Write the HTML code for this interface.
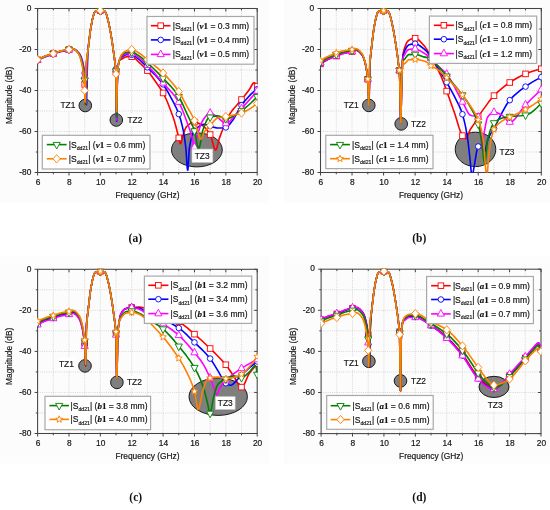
<!DOCTYPE html><html><head><meta charset="utf-8"><style>html,body{margin:0;padding:0;background:#fff}svg{display:block}</style></head><body><svg width="550" height="510" viewBox="0 0 550 510">
<style>.t{font-family:"Liberation Sans",Arial,sans-serif;font-size:8.4px;fill:#151515;stroke:#151515;stroke-width:0.18px}.lg{font-size:8.55px}.sub{font-size:5.2px}.vi{font-family:"Liberation Serif",serif;font-style:italic;font-weight:bold;font-size:9px}.vb{font-family:"Liberation Serif",serif;font-weight:bold;font-size:9px}.cap{font-family:"Liberation Serif",serif;font-weight:bold;font-size:11.5px;fill:#111}</style>
<rect width="550" height="510" fill="#fff"/>
<rect x="0" y="0" width="269" height="203" fill="#fcfcfc"/>
<rect x="284" y="0" width="266" height="203" fill="#fcfcfc"/>
<rect x="0" y="256.5" width="269" height="207" fill="#fcfcfc"/>
<rect x="284" y="256.5" width="266" height="207" fill="#fcfcfc"/>
<clipPath id="clipa"><rect x="37.6" y="3.5" width="219.6" height="169.0"/></clipPath>
<clipPath id="mclipa"><rect x="37.1" y="8.0" width="220.6" height="165.0"/></clipPath>
<path d="M53.29 8.50V172.50 M68.97 8.50V172.50 M84.66 8.50V172.50 M100.34 8.50V172.50 M116.03 8.50V172.50 M131.71 8.50V172.50 M147.40 8.50V172.50 M163.09 8.50V172.50 M178.77 8.50V172.50 M194.46 8.50V172.50 M210.14 8.50V172.50 M225.83 8.50V172.50 M241.51 8.50V172.50 M37.60 152.00H257.20 M37.60 131.50H257.20 M37.60 111.00H257.20 M37.60 90.50H257.20 M37.60 70.00H257.20 M37.60 49.50H257.20 M37.60 29.00H257.20" stroke="#d2d2d2" stroke-width="0.9" stroke-dasharray="1 1.2" fill="none"/>
<path d="M37.60 172.50v3 M37.60 8.50v3 M53.29 172.50v1.8 M53.29 8.50v1.8 M68.97 172.50v3 M68.97 8.50v3 M84.66 172.50v1.8 M84.66 8.50v1.8 M100.34 172.50v3 M100.34 8.50v3 M116.03 172.50v1.8 M116.03 8.50v1.8 M131.71 172.50v3 M131.71 8.50v3 M147.40 172.50v1.8 M147.40 8.50v1.8 M163.09 172.50v3 M163.09 8.50v3 M178.77 172.50v1.8 M178.77 8.50v1.8 M194.46 172.50v3 M194.46 8.50v3 M210.14 172.50v1.8 M210.14 8.50v1.8 M225.83 172.50v3 M225.83 8.50v3 M241.51 172.50v1.8 M241.51 8.50v1.8 M257.20 172.50v3 M257.20 8.50v3 M37.60 172.50h-3 M257.20 172.50h-3 M37.60 152.00h-1.8 M257.20 152.00h-1.8 M37.60 131.50h-3 M257.20 131.50h-3 M37.60 111.00h-1.8 M257.20 111.00h-1.8 M37.60 90.50h-3 M257.20 90.50h-3 M37.60 70.00h-1.8 M257.20 70.00h-1.8 M37.60 49.50h-3 M257.20 49.50h-3 M37.60 29.00h-1.8 M257.20 29.00h-1.8 M37.60 8.50h-3 M257.20 8.50h-3" stroke="#444" stroke-width="1" fill="none"/>
<rect x="37.60" y="8.50" width="219.60" height="164.00" fill="none" stroke="#444" stroke-width="1.05"/>
<text x="38.00" y="185.30" text-anchor="middle" class="t">6</text>
<text x="69.37" y="185.30" text-anchor="middle" class="t">8</text>
<text x="100.74" y="185.30" text-anchor="middle" class="t">10</text>
<text x="132.11" y="185.30" text-anchor="middle" class="t">12</text>
<text x="163.49" y="185.30" text-anchor="middle" class="t">14</text>
<text x="194.86" y="185.30" text-anchor="middle" class="t">16</text>
<text x="226.23" y="185.30" text-anchor="middle" class="t">18</text>
<text x="257.60" y="185.30" text-anchor="middle" class="t">20</text>
<text x="31.30" y="174.70" text-anchor="end" class="t">-80</text>
<text x="31.30" y="133.70" text-anchor="end" class="t">-60</text>
<text x="31.30" y="92.70" text-anchor="end" class="t">-40</text>
<text x="31.30" y="51.70" text-anchor="end" class="t">-20</text>
<text x="31.30" y="10.70" text-anchor="end" class="t">0</text>
<text x="147.50" y="197.70" text-anchor="middle" class="t">Frequency (GHz)</text>
<text transform="translate(12.10 95.40) rotate(-90)" text-anchor="middle" class="t">Magnitude (dB)</text>
<ellipse cx="196.90" cy="149.90" rx="25.4" ry="17.0" fill="#7f7f7f" stroke="#1a1a1a" stroke-width="1"/>
<circle cx="85.30" cy="105.50" r="6.3" fill="#7f7f7f" stroke="#1a1a1a" stroke-width="1"/>
<circle cx="116.30" cy="120.00" r="6.3" fill="#7f7f7f" stroke="#1a1a1a" stroke-width="1"/>
<polyline points="37.6,59.8 41.7,57.7 45.4,56.1 48.0,55.2 53.3,53.6 58.6,51.7 60.8,51.0 63.3,50.5 69.0,49.5 71.5,48.9 72.7,48.7 73.4,48.7 74.3,49.1 74.9,49.4 75.9,50.2 77.1,51.6 78.4,53.2 79.0,54.2 79.6,55.4 80.6,58.0 81.5,61.3 82.1,63.9 82.8,67.2 83.4,71.4 84.0,76.5 84.7,84.4 85.3,104.1 85.6,96.4 85.9,76.5 86.2,65.6 86.5,60.9 86.9,57.8 88.1,49.5 89.4,38.4 90.3,31.1 91.9,21.9 92.5,19.0 93.8,14.1 94.4,12.6 95.3,11.5 96.0,11.0 96.3,11.0 97.2,11.2 98.5,12.0 98.8,12.3 99.7,13.6 100.0,13.9 100.3,14.0 100.7,13.9 101.0,13.6 101.9,12.3 102.2,12.0 103.5,11.2 104.1,11.0 104.4,11.0 104.7,11.2 105.4,12.1 106.0,13.2 106.6,14.9 108.2,20.8 109.8,28.2 110.7,33.2 112.0,40.9 114.1,55.9 115.7,68.1 116.0,72.1 116.3,109.1 116.7,117.1 117.3,80.0 117.6,72.5 117.9,67.9 118.5,63.1 118.9,61.6 119.2,60.8 120.1,59.8 120.7,59.4 122.3,58.7 124.8,57.3 125.8,56.9 127.0,56.7 131.7,56.7 132.7,56.8 133.9,57.5 135.5,58.7 138.9,62.2 143.9,66.9 147.7,71.0 150.9,75.0 159.3,87.0 161.2,89.8 163.1,93.0 165.3,97.3 167.5,102.3 170.6,110.2 172.8,116.3 174.4,121.1 175.9,126.5 178.8,137.9 179.7,142.3 180.0,143.4 180.3,143.8 180.7,143.6 181.3,142.1 182.8,135.7 183.5,133.6 185.0,129.4 185.7,128.0 186.3,127.0 187.2,126.0 188.8,124.6 190.1,123.6 191.3,122.9 192.6,122.4 193.5,122.2 194.5,122.1 195.7,122.2 197.0,122.5 198.5,123.2 200.4,124.2 202.9,125.8 204.2,126.8 205.4,128.0 206.7,129.5 207.9,131.2 210.1,134.6 210.8,136.0 211.7,139.0 213.9,147.0 214.8,149.3 215.2,149.7 215.5,149.9 215.8,149.9 216.1,149.6 216.7,148.2 217.4,146.1 219.2,138.6 220.5,135.1 222.1,131.0 225.5,122.5 227.1,118.9 228.7,115.8 230.2,113.3 231.8,111.1 233.4,109.0 240.6,100.7 248.1,91.2 249.7,89.0 252.2,84.5 253.1,83.2 253.7,82.8 254.1,82.7 254.4,82.8 255.0,83.1 255.9,84.1 257.2,86.4" fill="none" stroke="#ff0000" stroke-width="1.6" stroke-linejoin="round" clip-path="url(#clipa)"/>
<rect x="34.80" y="56.95" width="5.6" height="5.6" fill="#fff" stroke="#ff0000" stroke-width="0.9" clip-path="url(#mclipa)"/>
<rect x="50.49" y="50.80" width="5.6" height="5.6" fill="#fff" stroke="#ff0000" stroke-width="0.9"/>
<rect x="66.17" y="46.70" width="5.6" height="5.6" fill="#fff" stroke="#ff0000" stroke-width="0.9"/>
<rect x="81.86" y="81.55" width="5.6" height="5.6" fill="#fff" stroke="#ff0000" stroke-width="0.9"/>
<rect x="97.54" y="7.75" width="5.6" height="5.6" fill="#fff" stroke="#ff0000" stroke-width="0.9" clip-path="url(#mclipa)"/>
<rect x="113.23" y="69.25" width="5.6" height="5.6" fill="#fff" stroke="#ff0000" stroke-width="0.9"/>
<rect x="128.91" y="53.88" width="5.6" height="5.6" fill="#fff" stroke="#ff0000" stroke-width="0.9"/>
<rect x="144.60" y="67.82" width="5.6" height="5.6" fill="#fff" stroke="#ff0000" stroke-width="0.9"/>
<rect x="160.29" y="90.16" width="5.6" height="5.6" fill="#fff" stroke="#ff0000" stroke-width="0.9"/>
<rect x="175.97" y="135.06" width="5.6" height="5.6" fill="#fff" stroke="#ff0000" stroke-width="0.9"/>
<rect x="191.66" y="119.27" width="5.6" height="5.6" fill="#fff" stroke="#ff0000" stroke-width="0.9"/>
<rect x="207.34" y="131.77" width="5.6" height="5.6" fill="#fff" stroke="#ff0000" stroke-width="0.9"/>
<rect x="223.03" y="118.97" width="5.6" height="5.6" fill="#fff" stroke="#ff0000" stroke-width="0.9"/>
<rect x="238.71" y="96.72" width="5.6" height="5.6" fill="#fff" stroke="#ff0000" stroke-width="0.9"/>
<rect x="254.40" y="83.60" width="5.6" height="5.6" fill="#fff" stroke="#ff0000" stroke-width="0.9" clip-path="url(#mclipa)"/>
<polyline points="37.6,60.4 41.7,58.3 45.4,56.7 47.6,55.9 53.6,54.1 59.2,52.1 61.4,51.5 68.7,50.2 71.5,49.5 72.7,49.3 73.7,49.4 74.9,49.8 75.9,50.4 77.1,51.4 78.4,52.6 80.0,54.5 80.9,56.3 81.8,59.0 82.8,62.3 83.7,66.8 84.7,73.1 85.0,77.6 85.9,98.4 86.2,103.2 86.5,104.6 87.2,72.1 87.8,55.2 88.1,49.5 88.7,43.2 90.3,31.1 91.9,21.9 92.5,19.0 93.8,14.1 94.4,12.6 95.3,11.5 96.0,11.0 96.3,11.0 97.2,11.2 98.5,12.0 98.8,12.3 99.7,13.6 100.0,13.9 100.3,14.0 100.7,13.9 101.0,13.6 101.9,12.3 102.2,12.0 103.2,11.3 104.1,11.0 104.4,11.0 104.7,11.2 105.4,12.1 106.0,13.2 106.3,13.9 106.9,16.0 108.5,22.2 110.1,29.8 112.0,40.9 114.1,55.9 115.1,63.8 115.4,65.7 115.7,66.9 116.0,69.0 116.7,121.2 117.0,107.3 117.3,85.5 117.6,76.0 117.9,69.9 118.2,66.4 118.9,61.9 119.2,60.8 120.1,58.9 120.7,58.0 121.4,57.4 123.9,55.7 124.8,55.2 125.8,54.8 126.4,54.7 127.3,54.6 132.0,54.9 133.3,55.2 134.9,56.1 140.8,61.0 143.9,63.9 155.6,75.5 158.7,78.9 161.2,81.9 164.0,85.7 166.9,90.2 173.8,102.9 176.3,108.0 177.5,110.8 178.8,114.1 180.7,119.8 182.2,125.7 183.8,133.2 185.0,141.4 186.0,149.5 186.9,163.7 187.2,167.7 187.6,170.1 187.9,170.0 188.2,167.0 189.1,151.3 189.4,147.9 190.4,142.3 191.3,138.1 191.9,135.9 192.6,134.2 194.1,131.3 195.7,129.2 196.7,128.2 197.6,127.4 199.8,125.9 202.0,124.7 203.6,124.3 204.8,124.4 206.1,124.7 214.5,127.4 217.0,128.0 219.9,128.0 223.3,127.7 226.1,127.3 227.1,126.9 228.0,126.2 229.3,124.8 233.7,118.9 235.2,116.3 238.7,109.8 240.3,107.1 241.5,105.3 244.3,101.6 248.1,97.2 251.2,93.9 254.4,91.2 257.2,89.3" fill="none" stroke="#0000ff" stroke-width="1.6" stroke-linejoin="round" clip-path="url(#clipa)"/>
<circle cx="37.60" cy="60.37" r="2.8" fill="#fff" stroke="#0000ff" stroke-width="0.9" clip-path="url(#mclipa)"/>
<circle cx="53.29" cy="54.21" r="2.8" fill="#fff" stroke="#0000ff" stroke-width="0.9"/>
<circle cx="68.97" cy="50.12" r="2.8" fill="#fff" stroke="#0000ff" stroke-width="0.9"/>
<circle cx="84.66" cy="73.08" r="2.8" fill="#fff" stroke="#0000ff" stroke-width="0.9"/>
<circle cx="100.34" cy="10.55" r="2.8" fill="#fff" stroke="#0000ff" stroke-width="0.9" clip-path="url(#mclipa)"/>
<circle cx="116.03" cy="68.97" r="2.8" fill="#fff" stroke="#0000ff" stroke-width="0.9"/>
<circle cx="131.71" cy="54.83" r="2.8" fill="#fff" stroke="#0000ff" stroke-width="0.9"/>
<circle cx="147.40" cy="67.34" r="2.8" fill="#fff" stroke="#0000ff" stroke-width="0.9"/>
<circle cx="163.09" cy="84.35" r="2.8" fill="#fff" stroke="#0000ff" stroke-width="0.9"/>
<circle cx="178.77" cy="114.08" r="2.8" fill="#fff" stroke="#0000ff" stroke-width="0.9"/>
<circle cx="194.46" cy="130.86" r="2.8" fill="#fff" stroke="#0000ff" stroke-width="0.9"/>
<circle cx="210.14" cy="125.96" r="2.8" fill="#fff" stroke="#0000ff" stroke-width="0.9"/>
<circle cx="225.83" cy="127.40" r="2.8" fill="#fff" stroke="#0000ff" stroke-width="0.9"/>
<circle cx="241.51" cy="105.26" r="2.8" fill="#fff" stroke="#0000ff" stroke-width="0.9"/>
<circle cx="257.20" cy="89.27" r="2.8" fill="#fff" stroke="#0000ff" stroke-width="0.9" clip-path="url(#mclipa)"/>
<polyline points="37.6,60.2 41.7,58.1 45.4,56.5 48.0,55.6 53.3,54.0 58.6,52.1 61.1,51.3 69.0,49.9 71.5,49.3 72.7,49.1 73.7,49.2 74.6,49.5 75.6,50.1 76.5,50.8 77.8,52.1 79.0,53.6 79.6,54.4 80.3,55.6 81.2,58.2 82.1,61.4 82.8,64.0 83.4,67.3 84.3,73.3 84.7,76.1 85.0,81.8 85.6,98.4 85.9,103.9 86.2,100.9 86.5,80.6 86.9,68.2 87.2,61.1 87.5,56.5 88.4,46.4 90.0,33.4 90.6,29.0 91.9,21.9 92.5,19.0 93.8,14.1 94.4,12.6 95.3,11.5 96.0,11.0 96.3,11.0 97.2,11.2 98.5,12.0 98.8,12.3 99.7,13.6 100.0,13.9 100.3,14.0 100.7,13.9 101.0,13.6 101.9,12.3 102.2,12.0 103.5,11.2 104.1,11.0 104.4,11.0 104.7,11.2 105.4,12.1 106.0,13.2 106.6,14.9 108.2,20.8 109.8,28.2 110.7,33.2 112.0,40.9 114.1,55.9 115.1,63.7 115.7,67.3 116.0,70.0 116.3,101.8 116.7,120.1 117.3,82.3 117.6,74.2 117.9,68.8 118.2,65.8 118.9,61.9 119.2,60.8 119.8,59.2 120.4,57.9 121.0,56.9 122.0,55.9 124.2,54.4 125.4,53.9 126.7,53.6 132.0,53.6 133.3,53.9 134.5,54.5 135.8,55.3 141.1,59.3 144.3,62.2 149.3,67.2 154.9,73.4 164.3,84.4 171.9,92.6 174.7,96.1 177.2,99.7 179.4,103.3 181.3,107.3 183.5,112.8 187.6,123.8 189.8,130.1 191.6,136.0 192.3,138.2 193.8,145.9 194.1,146.7 194.5,147.1 194.8,146.7 195.1,145.9 196.7,138.2 198.2,132.7 199.8,127.4 201.0,123.8 202.0,121.8 203.9,118.8 205.8,116.2 207.3,114.4 208.6,113.5 209.5,113.1 210.1,113.0 210.8,113.1 212.0,113.5 213.9,114.6 218.6,118.2 222.4,121.7 223.6,122.7 224.6,123.2 225.5,123.5 226.1,123.5 227.1,123.2 228.0,122.7 229.3,121.7 235.6,115.3 257.2,91.1" fill="none" stroke="#ff00ff" stroke-width="1.6" stroke-linejoin="round" clip-path="url(#clipa)"/>
<path d="M37.60 55.76L41.20 62.36H34.00Z" fill="#fff" stroke="#ff00ff" stroke-width="0.9" clip-path="url(#mclipa)"/>
<path d="M53.29 49.61L56.89 56.21H49.69Z" fill="#fff" stroke="#ff00ff" stroke-width="0.9"/>
<path d="M68.97 45.51L72.57 52.11H65.37Z" fill="#fff" stroke="#ff00ff" stroke-width="0.9"/>
<path d="M84.66 71.75L88.26 78.35H81.06Z" fill="#fff" stroke="#ff00ff" stroke-width="0.9"/>
<path d="M100.34 6.15L103.94 12.75H96.74Z" fill="#fff" stroke="#ff00ff" stroke-width="0.9" clip-path="url(#mclipa)"/>
<path d="M116.03 65.60L119.63 72.20H112.43Z" fill="#fff" stroke="#ff00ff" stroke-width="0.9"/>
<path d="M131.71 49.20L135.31 55.80H128.11Z" fill="#fff" stroke="#ff00ff" stroke-width="0.9"/>
<path d="M147.40 60.88L151.00 67.48H143.80Z" fill="#fff" stroke="#ff00ff" stroke-width="0.9"/>
<path d="M163.09 78.51L166.69 85.11H159.49Z" fill="#fff" stroke="#ff00ff" stroke-width="0.9"/>
<path d="M178.77 97.78L182.37 104.39H175.17Z" fill="#fff" stroke="#ff00ff" stroke-width="0.9"/>
<path d="M194.46 142.68L198.06 149.28H190.86Z" fill="#fff" stroke="#ff00ff" stroke-width="0.9"/>
<path d="M210.14 108.65L213.74 115.25H206.54Z" fill="#fff" stroke="#ff00ff" stroke-width="0.9"/>
<path d="M225.83 119.11L229.43 125.71H222.23Z" fill="#fff" stroke="#ff00ff" stroke-width="0.9"/>
<path d="M241.51 104.14L245.11 110.74H237.91Z" fill="#fff" stroke="#ff00ff" stroke-width="0.9"/>
<path d="M257.20 86.71L260.80 93.31H253.60Z" fill="#fff" stroke="#ff00ff" stroke-width="0.9" clip-path="url(#mclipa)"/>
<polyline points="37.6,59.8 41.7,57.7 45.4,56.1 48.0,55.2 53.3,53.6 58.6,51.7 60.8,51.0 63.3,50.5 69.0,49.5 71.5,48.9 72.7,48.7 73.4,48.7 74.3,49.0 74.9,49.4 75.9,50.1 77.1,51.4 78.7,53.4 79.3,54.4 80.0,55.7 80.9,58.4 81.8,61.7 82.8,66.2 84.0,74.1 84.7,80.2 85.3,100.1 85.6,104.6 86.2,71.7 86.5,63.3 87.2,56.4 88.1,49.5 90.0,33.4 90.6,29.0 91.9,21.9 92.5,19.0 93.8,14.1 94.4,12.6 95.3,11.5 96.0,11.0 96.3,11.0 97.2,11.2 98.5,12.0 98.8,12.3 99.7,13.6 100.0,13.9 100.3,14.0 100.7,13.9 101.0,13.6 101.9,12.3 102.2,12.0 103.5,11.2 104.1,11.0 104.4,11.0 104.7,11.2 105.4,12.1 106.0,13.2 106.6,14.9 108.2,20.8 109.8,28.2 110.7,33.2 112.0,40.9 114.1,55.9 115.1,63.6 115.7,67.7 116.0,71.0 116.3,108.8 116.7,117.1 117.3,80.0 117.6,72.5 117.9,67.9 118.2,65.4 118.9,61.9 119.8,59.0 120.4,57.5 121.0,56.2 122.0,54.9 124.2,53.2 125.4,52.5 126.7,52.2 132.0,52.2 133.6,52.5 134.9,53.1 136.1,53.9 140.5,56.9 142.1,58.1 148.7,64.0 154.0,69.0 159.9,74.9 170.6,86.1 174.4,90.5 177.8,95.2 179.7,98.2 181.6,101.9 186.9,113.7 191.0,122.1 192.9,126.5 194.1,130.0 194.8,132.0 195.4,134.8 197.3,144.9 197.9,147.3 198.2,148.1 198.5,148.5 198.8,148.5 199.2,148.0 199.8,146.1 200.4,143.1 202.3,132.5 202.9,129.9 204.8,124.7 206.1,121.7 207.3,119.3 208.3,118.1 208.6,117.8 209.2,117.5 212.3,116.6 215.2,116.1 217.7,115.9 218.6,116.0 219.6,116.2 220.8,116.8 223.6,118.2 225.2,118.7 226.5,118.8 227.7,118.6 229.0,118.3 230.5,117.7 232.7,116.5 234.9,115.2 242.8,109.7 245.3,107.9 248.1,105.5 250.9,103.0 254.1,99.9 257.2,96.6" fill="none" stroke="#008000" stroke-width="1.6" stroke-linejoin="round" clip-path="url(#clipa)"/>
<path d="M37.60 64.15L41.20 57.55H34.00Z" fill="#fff" stroke="#008000" stroke-width="0.9" clip-path="url(#mclipa)"/>
<path d="M53.29 58.00L56.89 51.40H49.69Z" fill="#fff" stroke="#008000" stroke-width="0.9"/>
<path d="M68.97 53.90L72.57 47.30H65.37Z" fill="#fff" stroke="#008000" stroke-width="0.9"/>
<path d="M84.66 84.65L88.26 78.05H81.06Z" fill="#fff" stroke="#008000" stroke-width="0.9"/>
<path d="M100.34 14.95L103.94 8.35H96.74Z" fill="#fff" stroke="#008000" stroke-width="0.9" clip-path="url(#mclipa)"/>
<path d="M116.03 75.43L119.63 68.83H112.43Z" fill="#fff" stroke="#008000" stroke-width="0.9"/>
<path d="M131.71 56.56L135.31 49.96H128.11Z" fill="#fff" stroke="#008000" stroke-width="0.9"/>
<path d="M147.40 67.22L151.00 60.62H143.80Z" fill="#fff" stroke="#008000" stroke-width="0.9"/>
<path d="M163.09 82.60L166.69 76.00H159.49Z" fill="#fff" stroke="#008000" stroke-width="0.9"/>
<path d="M178.77 101.05L182.37 94.45H175.17Z" fill="#fff" stroke="#008000" stroke-width="0.9"/>
<path d="M194.46 135.29L198.06 128.69H190.86Z" fill="#fff" stroke="#008000" stroke-width="0.9"/>
<path d="M210.14 121.59L213.74 114.99H206.54Z" fill="#fff" stroke="#008000" stroke-width="0.9"/>
<path d="M225.83 123.19L229.43 116.59H222.23Z" fill="#fff" stroke="#008000" stroke-width="0.9"/>
<path d="M241.51 114.99L245.11 108.39H237.91Z" fill="#fff" stroke="#008000" stroke-width="0.9"/>
<path d="M257.20 101.05L260.80 94.45H253.60Z" fill="#fff" stroke="#008000" stroke-width="0.9" clip-path="url(#mclipa)"/>
<polyline points="37.6,59.8 41.7,57.7 45.4,56.1 48.0,55.2 53.3,53.6 58.3,51.8 60.5,51.1 63.0,50.5 69.0,49.5 71.5,48.9 72.4,48.7 73.0,48.7 73.7,48.8 74.3,49.1 75.2,49.8 76.2,50.7 77.4,52.3 78.7,54.1 79.3,55.3 80.0,57.0 80.9,60.0 81.5,62.3 82.1,65.1 83.1,71.1 84.0,80.5 84.7,90.5 85.0,102.2 85.3,99.1 85.6,78.5 85.9,69.4 86.2,63.9 86.9,57.8 88.1,49.5 89.4,38.4 90.3,31.1 91.2,25.3 92.2,20.4 93.4,15.2 94.1,13.2 94.7,12.2 95.6,11.2 96.0,11.0 96.6,11.0 97.5,11.4 98.5,12.0 98.8,12.3 99.7,13.6 100.0,13.9 100.3,14.0 100.7,13.9 101.0,13.6 101.9,12.3 102.2,12.0 103.5,11.2 104.1,11.0 104.4,11.0 104.7,11.2 105.4,12.1 106.3,13.9 107.9,19.5 109.1,25.1 110.4,31.5 111.6,38.8 113.8,53.7 114.8,60.7 115.7,69.1 116.0,74.1 116.3,105.2 116.7,111.7 117.3,80.1 117.6,72.7 117.9,67.9 118.2,65.4 118.9,62.0 119.8,58.7 120.7,56.2 121.7,54.4 122.6,53.3 124.2,51.9 126.1,50.9 129.2,49.9 131.4,49.5 133.0,49.7 134.5,50.3 136.1,51.1 140.5,54.0 142.4,55.4 147.4,59.8 157.1,67.7 161.8,71.9 166.9,76.9 171.2,81.7 175.0,86.3 178.1,90.6 180.3,94.0 182.2,97.4 186.9,106.4 191.0,113.4 192.9,117.0 193.8,119.1 194.8,121.5 197.0,129.5 199.2,136.4 199.8,138.0 200.4,139.0 200.7,139.1 201.0,138.9 201.4,138.6 202.0,137.2 203.6,133.1 204.2,132.1 205.4,130.4 207.0,128.6 210.8,124.7 214.5,120.3 215.8,119.1 216.7,118.3 217.7,117.9 219.2,117.5 225.5,116.6 234.9,114.8 239.0,113.8 242.5,112.7 245.6,111.3 249.0,109.4 252.8,106.8 257.2,103.4" fill="none" stroke="#ff8000" stroke-width="1.6" stroke-linejoin="round" clip-path="url(#clipa)"/>
<path d="M37.60 55.65L41.20 59.75L37.60 63.85L34.00 59.75Z" fill="#fff" stroke="#ff8000" stroke-width="0.9" clip-path="url(#mclipa)"/>
<path d="M53.29 49.50L56.89 53.60L53.29 57.70L49.69 53.60Z" fill="#fff" stroke="#ff8000" stroke-width="0.9"/>
<path d="M68.97 45.40L72.57 49.50L68.97 53.60L65.37 49.50Z" fill="#fff" stroke="#ff8000" stroke-width="0.9"/>
<path d="M84.66 86.40L88.26 90.50L84.66 94.60L81.06 90.50Z" fill="#fff" stroke="#ff8000" stroke-width="0.9"/>
<path d="M100.34 6.45L103.94 10.55L100.34 14.65L96.74 10.55Z" fill="#fff" stroke="#ff8000" stroke-width="0.9" clip-path="url(#mclipa)"/>
<path d="M116.03 70.00L119.63 74.10L116.03 78.20L112.43 74.10Z" fill="#fff" stroke="#ff8000" stroke-width="0.9"/>
<path d="M131.71 45.40L135.31 49.50L131.71 53.60L128.11 49.50Z" fill="#fff" stroke="#ff8000" stroke-width="0.9"/>
<path d="M147.40 55.65L151.00 59.75L147.40 63.85L143.80 59.75Z" fill="#fff" stroke="#ff8000" stroke-width="0.9"/>
<path d="M163.09 68.98L166.69 73.08L163.09 77.17L159.49 73.08Z" fill="#fff" stroke="#ff8000" stroke-width="0.9"/>
<path d="M178.77 87.42L182.37 91.52L178.77 95.62L175.17 91.52Z" fill="#fff" stroke="#ff8000" stroke-width="0.9"/>
<path d="M194.46 116.54L198.06 120.64L194.46 124.74L190.86 120.64Z" fill="#fff" stroke="#ff8000" stroke-width="0.9"/>
<path d="M210.14 121.25L213.74 125.35L210.14 129.45L206.54 125.35Z" fill="#fff" stroke="#ff8000" stroke-width="0.9"/>
<path d="M225.83 112.44L229.43 116.54L225.83 120.64L222.23 116.54Z" fill="#fff" stroke="#ff8000" stroke-width="0.9"/>
<path d="M241.51 108.95L245.11 113.05L241.51 117.15L237.91 113.05Z" fill="#fff" stroke="#ff8000" stroke-width="0.9"/>
<path d="M257.20 99.31L260.80 103.41L257.20 107.51L253.60 103.41Z" fill="#fff" stroke="#ff8000" stroke-width="0.9" clip-path="url(#mclipa)"/>
<rect x="59.20" y="98.40" width="17.30" height="12.4" fill="#fff"/>
<text x="75.30" y="107.60" text-anchor="end" class="t">TZ1</text>
<rect x="126.30" y="113.80" width="17.30" height="12.4" fill="#fff"/>
<text x="127.50" y="123.00" text-anchor="start" class="t">TZ2</text>
<rect x="192.0" y="149.1" width="20.8" height="13.2" fill="#fff" stroke="#d0d0d0" stroke-width="0.6"/>
<text x="202.20" y="158.90" text-anchor="middle" class="t">TZ3</text>
<rect x="147.00" y="16.50" width="107.00" height="47.70" fill="#fff" stroke="#a8a8a8" stroke-width="1.2"/>
<line x1="150.90" y1="25.70" x2="170.50" y2="25.70" stroke="#ff0000" stroke-width="1.6"/>
<rect x="157.90" y="22.90" width="5.6" height="5.6" fill="#fff" stroke="#ff0000" stroke-width="0.9"/>
<text x="172.70" y="28.70" class="t lg">|S<tspan class="sub" dy="2.3">dd21</tspan><tspan dy="-2.3">| (</tspan><tspan class="vi">v</tspan><tspan class="vb">1</tspan> = 0.3 mm)</text>
<line x1="150.90" y1="39.90" x2="170.50" y2="39.90" stroke="#0000ff" stroke-width="1.6"/>
<circle cx="160.70" cy="39.90" r="2.8" fill="#fff" stroke="#0000ff" stroke-width="0.9"/>
<text x="172.70" y="42.90" class="t lg">|S<tspan class="sub" dy="2.3">dd21</tspan><tspan dy="-2.3">| (</tspan><tspan class="vi">v</tspan><tspan class="vb">1</tspan> = 0.4 mm)</text>
<line x1="150.90" y1="54.40" x2="170.50" y2="54.40" stroke="#ff00ff" stroke-width="1.6"/>
<path d="M160.70 50.00L164.30 56.60H157.10Z" fill="#fff" stroke="#ff00ff" stroke-width="0.9"/>
<text x="172.70" y="57.40" class="t lg">|S<tspan class="sub" dy="2.3">dd21</tspan><tspan dy="-2.3">| (</tspan><tspan class="vi">v</tspan><tspan class="vb">1</tspan> = 0.5 mm)</text>
<rect x="42.30" y="135.30" width="107.70" height="33.70" fill="#fff" stroke="#a8a8a8" stroke-width="1.2"/>
<line x1="46.80" y1="144.60" x2="66.60" y2="144.60" stroke="#008000" stroke-width="1.6"/>
<path d="M56.70 149.00L60.30 142.40H53.10Z" fill="#fff" stroke="#008000" stroke-width="0.9"/>
<text x="68.80" y="147.60" class="t lg">|S<tspan class="sub" dy="2.3">dd21</tspan><tspan dy="-2.3">| (</tspan><tspan class="vi">v</tspan><tspan class="vb">1</tspan> = 0.6 mm)</text>
<line x1="46.80" y1="158.80" x2="66.60" y2="158.80" stroke="#ff8000" stroke-width="1.6"/>
<path d="M56.70 154.70L60.30 158.80L56.70 162.90L53.10 158.80Z" fill="#fff" stroke="#ff8000" stroke-width="0.9"/>
<text x="68.80" y="161.80" class="t lg">|S<tspan class="sub" dy="2.3">dd21</tspan><tspan dy="-2.3">| (</tspan><tspan class="vi">v</tspan><tspan class="vb">1</tspan> = 0.7 mm)</text>
<text x="135.3" y="242" text-anchor="middle" class="cap">(a)</text>
<clipPath id="clipb"><rect x="320.5" y="3.5" width="220.79999999999995" height="169.0"/></clipPath>
<clipPath id="mclipb"><rect x="320.0" y="8.0" width="221.79999999999995" height="165.0"/></clipPath>
<path d="M336.27 8.50V172.50 M352.04 8.50V172.50 M367.81 8.50V172.50 M383.59 8.50V172.50 M399.36 8.50V172.50 M415.13 8.50V172.50 M430.90 8.50V172.50 M446.67 8.50V172.50 M462.44 8.50V172.50 M478.21 8.50V172.50 M493.99 8.50V172.50 M509.76 8.50V172.50 M525.53 8.50V172.50 M320.50 152.00H541.30 M320.50 131.50H541.30 M320.50 111.00H541.30 M320.50 90.50H541.30 M320.50 70.00H541.30 M320.50 49.50H541.30 M320.50 29.00H541.30" stroke="#d2d2d2" stroke-width="0.9" stroke-dasharray="1 1.2" fill="none"/>
<path d="M320.50 172.50v3 M320.50 8.50v3 M336.27 172.50v1.8 M336.27 8.50v1.8 M352.04 172.50v3 M352.04 8.50v3 M367.81 172.50v1.8 M367.81 8.50v1.8 M383.59 172.50v3 M383.59 8.50v3 M399.36 172.50v1.8 M399.36 8.50v1.8 M415.13 172.50v3 M415.13 8.50v3 M430.90 172.50v1.8 M430.90 8.50v1.8 M446.67 172.50v3 M446.67 8.50v3 M462.44 172.50v1.8 M462.44 8.50v1.8 M478.21 172.50v3 M478.21 8.50v3 M493.99 172.50v1.8 M493.99 8.50v1.8 M509.76 172.50v3 M509.76 8.50v3 M525.53 172.50v1.8 M525.53 8.50v1.8 M541.30 172.50v3 M541.30 8.50v3 M320.50 172.50h-3 M541.30 172.50h-3 M320.50 152.00h-1.8 M541.30 152.00h-1.8 M320.50 131.50h-3 M541.30 131.50h-3 M320.50 111.00h-1.8 M541.30 111.00h-1.8 M320.50 90.50h-3 M541.30 90.50h-3 M320.50 70.00h-1.8 M541.30 70.00h-1.8 M320.50 49.50h-3 M541.30 49.50h-3 M320.50 29.00h-1.8 M541.30 29.00h-1.8 M320.50 8.50h-3 M541.30 8.50h-3" stroke="#444" stroke-width="1" fill="none"/>
<rect x="320.50" y="8.50" width="220.80" height="164.00" fill="none" stroke="#444" stroke-width="1.05"/>
<text x="320.90" y="185.30" text-anchor="middle" class="t">6</text>
<text x="352.44" y="185.30" text-anchor="middle" class="t">8</text>
<text x="383.99" y="185.30" text-anchor="middle" class="t">10</text>
<text x="415.53" y="185.30" text-anchor="middle" class="t">12</text>
<text x="447.07" y="185.30" text-anchor="middle" class="t">14</text>
<text x="478.61" y="185.30" text-anchor="middle" class="t">16</text>
<text x="510.16" y="185.30" text-anchor="middle" class="t">18</text>
<text x="541.70" y="185.30" text-anchor="middle" class="t">20</text>
<text x="314.20" y="174.70" text-anchor="end" class="t">-80</text>
<text x="314.20" y="133.70" text-anchor="end" class="t">-60</text>
<text x="314.20" y="92.70" text-anchor="end" class="t">-40</text>
<text x="314.20" y="51.70" text-anchor="end" class="t">-20</text>
<text x="314.20" y="10.70" text-anchor="end" class="t">0</text>
<text x="431.00" y="197.70" text-anchor="middle" class="t">Frequency (GHz)</text>
<text transform="translate(295.00 95.40) rotate(-90)" text-anchor="middle" class="t">Magnitude (dB)</text>
<ellipse cx="475.50" cy="149.40" rx="20.3" ry="17.2" fill="#7f7f7f" stroke="#1a1a1a" stroke-width="1"/>
<circle cx="368.80" cy="105.40" r="6.3" fill="#7f7f7f" stroke="#1a1a1a" stroke-width="1"/>
<circle cx="401.20" cy="123.90" r="6.3" fill="#7f7f7f" stroke="#1a1a1a" stroke-width="1"/>
<polyline points="320.5,63.9 325.2,61.0 329.3,58.9 333.7,57.0 340.4,54.4 342.9,53.6 345.4,52.9 352.0,51.6 354.6,50.6 355.5,50.4 356.1,50.3 357.1,50.5 358.0,51.0 359.0,51.6 360.2,52.8 361.5,54.3 362.5,55.5 363.1,56.7 363.7,58.3 364.7,61.2 365.3,63.5 365.9,66.4 367.2,73.9 367.8,79.2 368.8,102.5 369.1,103.8 369.7,70.5 370.0,62.6 370.3,58.3 371.9,43.7 373.2,33.4 373.8,29.0 375.1,21.9 375.7,19.0 377.0,14.1 377.6,12.6 378.5,11.5 379.2,11.0 379.5,11.0 380.4,11.2 381.7,12.0 382.0,12.3 383.0,13.6 383.3,13.9 383.6,14.0 383.9,13.9 384.2,13.6 385.2,12.3 385.5,12.0 386.7,11.2 387.4,11.0 387.7,11.0 388.0,11.2 388.6,12.1 389.3,13.2 389.9,14.9 391.5,20.8 393.4,29.8 394.6,36.9 395.6,43.0 397.5,55.9 398.4,63.6 399.4,70.4 399.7,78.1 400.6,118.3 400.9,123.3 401.2,108.5 401.6,85.6 401.9,77.0 402.2,71.9 402.5,60.8 402.8,56.7 403.1,53.8 403.5,51.9 404.4,48.5 405.7,44.9 406.6,42.9 407.2,41.9 407.9,41.1 408.5,40.5 409.1,40.1 410.7,39.3 412.0,38.8 413.9,38.3 415.1,38.2 415.8,38.3 416.4,38.5 417.3,38.9 418.3,39.6 419.2,40.4 423.3,44.7 425.2,47.1 427.1,49.9 429.3,53.6 431.5,57.8 435.6,65.0 437.8,69.3 441.3,76.7 443.8,83.1 454.9,114.0 459.0,127.4 460.6,131.9 461.8,134.6 463.1,136.4 464.0,137.5 464.7,138.1 465.3,138.5 465.9,138.7 466.2,138.6 466.5,138.3 467.2,137.3 467.8,135.8 469.7,130.8 470.3,129.4 471.3,128.0 474.1,123.9 477.6,117.6 479.2,115.1 488.6,102.1 491.1,98.9 493.7,96.0 497.8,91.9 502.5,87.8 507.5,84.0 513.2,80.3 518.9,77.0 524.0,74.6 530.3,72.1 535.9,70.2 541.3,68.8" fill="none" stroke="#ff0000" stroke-width="1.6" stroke-linejoin="round" clip-path="url(#clipb)"/>
<rect x="317.70" y="61.05" width="5.6" height="5.6" fill="#fff" stroke="#ff0000" stroke-width="0.9" clip-path="url(#mclipb)"/>
<rect x="333.47" y="53.26" width="5.6" height="5.6" fill="#fff" stroke="#ff0000" stroke-width="0.9"/>
<rect x="349.24" y="48.75" width="5.6" height="5.6" fill="#fff" stroke="#ff0000" stroke-width="0.9"/>
<rect x="365.01" y="76.43" width="5.6" height="5.6" fill="#fff" stroke="#ff0000" stroke-width="0.9"/>
<rect x="380.79" y="7.75" width="5.6" height="5.6" fill="#fff" stroke="#ff0000" stroke-width="0.9" clip-path="url(#mclipb)"/>
<rect x="396.56" y="67.61" width="5.6" height="5.6" fill="#fff" stroke="#ff0000" stroke-width="0.9"/>
<rect x="412.33" y="35.42" width="5.6" height="5.6" fill="#fff" stroke="#ff0000" stroke-width="0.9"/>
<rect x="428.10" y="53.88" width="5.6" height="5.6" fill="#fff" stroke="#ff0000" stroke-width="0.9"/>
<rect x="443.87" y="88.31" width="5.6" height="5.6" fill="#fff" stroke="#ff0000" stroke-width="0.9"/>
<rect x="459.64" y="132.80" width="5.6" height="5.6" fill="#fff" stroke="#ff0000" stroke-width="0.9"/>
<rect x="475.41" y="113.74" width="5.6" height="5.6" fill="#fff" stroke="#ff0000" stroke-width="0.9"/>
<rect x="491.19" y="92.83" width="5.6" height="5.6" fill="#fff" stroke="#ff0000" stroke-width="0.9"/>
<rect x="506.96" y="79.71" width="5.6" height="5.6" fill="#fff" stroke="#ff0000" stroke-width="0.9"/>
<rect x="522.73" y="71.09" width="5.6" height="5.6" fill="#fff" stroke="#ff0000" stroke-width="0.9"/>
<rect x="538.50" y="65.97" width="5.6" height="5.6" fill="#fff" stroke="#ff0000" stroke-width="0.9" clip-path="url(#mclipb)"/>
<polyline points="320.5,63.4 325.2,60.6 329.3,58.5 333.7,56.6 340.4,54.0 342.9,53.1 345.7,52.4 352.0,51.1 354.6,50.3 355.5,50.1 356.5,50.2 357.1,50.3 358.0,50.8 359.0,51.5 360.2,52.7 361.5,54.1 362.5,55.4 363.1,56.5 363.7,58.1 364.7,61.1 365.3,63.4 365.9,66.3 367.2,73.8 367.8,79.2 368.8,102.9 369.1,102.9 369.7,69.5 370.0,62.2 370.7,54.9 372.9,35.9 373.8,29.0 375.1,21.9 375.7,19.0 377.0,14.1 377.6,12.6 378.5,11.5 379.2,11.0 379.5,11.0 380.4,11.2 381.7,12.0 382.0,12.3 383.0,13.6 383.3,13.9 383.6,14.0 383.9,13.9 384.2,13.6 385.2,12.3 385.5,12.0 386.4,11.3 387.4,11.0 387.7,11.0 388.0,11.2 388.6,12.1 389.3,13.2 389.6,13.9 390.2,16.0 391.8,22.2 393.4,29.8 394.6,36.9 395.6,43.0 397.5,55.9 398.4,63.6 399.4,70.4 399.7,78.1 400.6,118.3 400.9,123.3 401.2,108.5 401.6,85.6 401.9,77.0 402.2,71.9 402.5,60.8 402.8,57.7 403.1,55.6 403.5,54.3 404.7,51.0 406.0,48.2 407.2,46.3 407.9,45.6 408.5,45.1 410.1,44.6 412.0,44.1 413.9,43.8 415.4,43.8 416.4,43.9 417.7,44.4 418.9,45.1 420.2,46.0 424.0,48.8 426.5,51.2 429.6,54.8 432.2,58.6 443.5,77.0 450.1,88.4 453.0,93.6 457.7,102.8 459.3,106.1 460.6,109.1 462.4,114.3 464.0,119.9 465.6,126.9 467.2,135.6 467.8,139.9 468.8,147.8 470.3,162.2 471.3,172.9 471.6,174.5 472.5,174.5 472.9,173.6 474.4,165.1 476.6,151.7 477.3,148.8 477.9,146.9 478.2,146.5 479.2,145.9 480.1,145.5 480.7,145.5 481.1,145.7 481.7,146.7 483.3,150.4 483.9,151.5 484.2,151.9 484.5,152.0 484.8,151.7 485.2,151.0 485.5,149.9 487.4,140.7 487.7,139.7 488.6,137.5 490.2,134.5 493.4,129.5 494.9,126.7 502.2,112.4 504.4,108.3 506.3,105.0 508.2,102.2 510.4,99.4 513.5,96.1 516.7,93.3 520.5,90.2 526.8,85.7 531.8,82.4 536.6,79.6 541.3,77.2" fill="none" stroke="#0000ff" stroke-width="1.6" stroke-linejoin="round" clip-path="url(#clipb)"/>
<circle cx="320.50" cy="63.44" r="2.8" fill="#fff" stroke="#0000ff" stroke-width="0.9" clip-path="url(#mclipb)"/>
<circle cx="336.27" cy="55.65" r="2.8" fill="#fff" stroke="#0000ff" stroke-width="0.9"/>
<circle cx="352.04" cy="51.14" r="2.8" fill="#fff" stroke="#0000ff" stroke-width="0.9"/>
<circle cx="367.81" cy="79.23" r="2.8" fill="#fff" stroke="#0000ff" stroke-width="0.9"/>
<circle cx="383.59" cy="10.55" r="2.8" fill="#fff" stroke="#0000ff" stroke-width="0.9" clip-path="url(#mclipb)"/>
<circle cx="399.36" cy="70.41" r="2.8" fill="#fff" stroke="#0000ff" stroke-width="0.9"/>
<circle cx="415.13" cy="43.76" r="2.8" fill="#fff" stroke="#0000ff" stroke-width="0.9"/>
<circle cx="430.90" cy="56.68" r="2.8" fill="#fff" stroke="#0000ff" stroke-width="0.9"/>
<circle cx="446.67" cy="82.30" r="2.8" fill="#fff" stroke="#0000ff" stroke-width="0.9"/>
<circle cx="462.44" cy="114.28" r="2.8" fill="#fff" stroke="#0000ff" stroke-width="0.9"/>
<circle cx="478.21" cy="146.47" r="2.8" fill="#fff" stroke="#0000ff" stroke-width="0.9"/>
<circle cx="493.99" cy="128.43" r="2.8" fill="#fff" stroke="#0000ff" stroke-width="0.9"/>
<circle cx="509.76" cy="100.14" r="2.8" fill="#fff" stroke="#0000ff" stroke-width="0.9"/>
<circle cx="525.53" cy="86.61" r="2.8" fill="#fff" stroke="#0000ff" stroke-width="0.9"/>
<circle cx="541.30" cy="77.17" r="2.8" fill="#fff" stroke="#0000ff" stroke-width="0.9" clip-path="url(#mclipb)"/>
<polyline points="320.5,62.8 324.6,60.6 328.4,58.9 330.6,58.1 336.3,56.3 341.6,54.1 343.8,53.4 352.0,51.6 354.6,50.4 355.5,50.2 356.1,50.1 357.1,50.3 358.0,50.8 359.0,51.5 360.2,52.7 361.5,54.1 362.5,55.4 363.1,56.5 363.7,58.1 364.7,61.1 365.3,63.4 365.9,66.3 367.2,73.8 367.8,79.2 368.8,102.9 369.1,102.9 369.7,69.5 370.0,62.2 370.7,54.9 372.9,35.9 373.8,29.0 375.1,21.9 375.7,19.0 377.0,14.1 377.6,12.6 378.5,11.5 379.2,11.0 379.5,11.0 380.4,11.2 381.7,12.0 382.0,12.3 383.0,13.6 383.3,13.9 383.6,14.0 383.9,13.9 384.2,13.6 385.2,12.3 385.5,12.0 386.7,11.2 387.4,11.0 387.7,11.0 388.0,11.2 388.6,12.1 389.3,13.2 389.9,14.9 391.5,20.8 393.4,29.8 394.6,36.9 395.6,43.0 397.5,55.9 398.4,63.6 399.4,70.4 399.7,78.1 400.6,118.3 400.9,123.3 401.2,108.5 401.6,85.6 401.9,77.0 402.2,71.9 402.5,60.8 402.8,58.7 403.1,57.5 403.5,56.7 405.4,53.3 406.6,51.3 407.2,50.5 407.9,50.0 408.8,49.5 412.3,49.0 415.1,48.9 416.7,49.1 417.7,49.5 418.9,50.1 424.3,53.3 426.8,55.0 429.3,56.9 431.5,59.0 435.3,63.3 436.9,64.9 438.8,66.7 443.2,70.5 445.7,73.0 447.3,74.9 448.6,76.6 450.1,79.1 451.7,81.8 454.2,86.4 459.9,97.4 463.4,103.7 466.9,110.7 468.4,113.3 469.1,114.1 469.7,114.7 470.6,115.2 472.2,115.7 476.0,116.3 477.3,116.7 478.2,117.1 478.5,117.7 478.8,118.9 479.5,122.8 480.7,133.0 481.7,145.1 482.0,147.6 482.3,147.6 482.6,145.8 483.6,136.7 483.9,134.6 485.5,125.3 486.4,120.8 487.0,118.5 487.7,117.1 488.9,115.5 490.2,114.1 491.8,112.9 492.7,112.5 493.4,112.3 494.9,112.3 495.9,112.5 497.1,112.8 499.3,113.8 502.5,115.5 503.8,116.7 506.9,120.3 507.9,121.2 508.5,121.7 509.1,122.0 509.8,122.1 510.7,121.9 511.6,121.6 512.6,121.0 513.5,120.3 514.5,119.4 515.8,117.9 518.0,115.0 522.7,108.3 525.2,105.2 533.4,97.0 541.3,89.7" fill="none" stroke="#ff00ff" stroke-width="1.6" stroke-linejoin="round" clip-path="url(#clipb)"/>
<path d="M320.50 58.42L324.10 65.02H316.90Z" fill="#fff" stroke="#ff00ff" stroke-width="0.9" clip-path="url(#mclipb)"/>
<path d="M336.27 51.87L339.87 58.47H332.67Z" fill="#fff" stroke="#ff00ff" stroke-width="0.9"/>
<path d="M352.04 47.15L355.64 53.75H348.44Z" fill="#fff" stroke="#ff00ff" stroke-width="0.9"/>
<path d="M367.81 74.83L371.41 81.43H364.21Z" fill="#fff" stroke="#ff00ff" stroke-width="0.9"/>
<path d="M383.59 6.15L387.19 12.75H379.99Z" fill="#fff" stroke="#ff00ff" stroke-width="0.9" clip-path="url(#mclipb)"/>
<path d="M399.36 66.01L402.96 72.61H395.76Z" fill="#fff" stroke="#ff00ff" stroke-width="0.9"/>
<path d="M415.13 44.48L418.73 51.09H411.53Z" fill="#fff" stroke="#ff00ff" stroke-width="0.9"/>
<path d="M430.90 53.92L434.50 60.52H427.30Z" fill="#fff" stroke="#ff00ff" stroke-width="0.9"/>
<path d="M446.67 69.70L450.27 76.30H443.07Z" fill="#fff" stroke="#ff00ff" stroke-width="0.9"/>
<path d="M462.44 97.58L466.04 104.18H458.84Z" fill="#fff" stroke="#ff00ff" stroke-width="0.9"/>
<path d="M478.21 112.75L481.81 119.35H474.61Z" fill="#fff" stroke="#ff00ff" stroke-width="0.9"/>
<path d="M493.99 107.83L497.59 114.43H490.39Z" fill="#fff" stroke="#ff00ff" stroke-width="0.9"/>
<path d="M509.76 117.67L513.36 124.27H506.16Z" fill="#fff" stroke="#ff00ff" stroke-width="0.9"/>
<path d="M525.53 100.45L529.13 107.05H521.93Z" fill="#fff" stroke="#ff00ff" stroke-width="0.9"/>
<path d="M541.30 85.28L544.90 91.88H537.70Z" fill="#fff" stroke="#ff00ff" stroke-width="0.9" clip-path="url(#mclipb)"/>
<polyline points="320.5,61.8 324.9,59.3 329.0,57.3 332.8,55.9 340.7,53.0 342.9,52.3 345.4,51.7 352.0,50.5 354.6,49.7 355.5,49.5 356.5,49.5 357.1,49.7 358.0,50.2 359.0,50.9 360.2,52.1 361.5,53.6 362.5,54.9 363.1,56.1 363.7,57.8 364.7,60.8 365.3,63.1 365.9,66.1 367.2,73.7 367.8,79.2 368.8,103.9 369.1,99.1 369.4,78.7 369.7,67.0 370.0,61.1 370.7,54.6 373.2,33.4 373.8,29.0 375.1,21.9 375.7,19.0 377.0,14.1 377.6,12.6 378.5,11.5 379.2,11.0 379.5,11.0 380.4,11.2 381.7,12.0 382.0,12.3 383.0,13.6 383.3,13.9 383.6,14.0 383.9,13.9 384.2,13.6 385.2,12.3 385.5,12.0 386.7,11.2 387.4,11.0 387.7,11.0 388.0,11.2 388.6,12.1 389.3,13.2 389.9,14.9 391.5,20.8 393.4,29.8 394.6,36.9 395.6,43.0 397.5,55.9 398.4,63.6 399.4,70.4 399.7,78.1 400.6,118.3 400.9,123.3 401.2,108.5 401.6,85.6 401.9,77.0 402.2,71.9 402.5,60.8 402.8,60.4 403.1,60.1 403.8,59.9 404.4,59.5 405.0,58.8 406.9,56.1 407.6,55.4 408.2,54.8 408.8,54.6 413.9,54.4 415.4,54.4 416.4,54.5 418.3,55.0 422.7,56.6 427.4,57.6 429.3,58.3 430.0,58.8 431.5,60.3 435.6,63.7 438.5,66.6 454.6,85.2 458.3,89.7 462.4,95.0 466.9,101.2 469.7,105.8 473.5,112.6 475.4,116.5 477.0,120.4 478.2,124.1 479.2,127.8 480.1,132.5 481.4,139.7 482.0,144.4 483.6,158.7 484.2,162.5 484.5,163.4 484.8,163.3 485.2,162.2 485.5,160.1 487.0,144.1 487.7,139.7 489.3,133.6 490.8,128.7 491.8,126.4 492.4,125.2 493.4,123.6 494.0,122.9 496.2,121.0 498.4,119.6 500.9,118.5 503.8,117.6 506.9,117.0 510.7,116.4 520.8,115.7 524.3,115.3 526.2,115.0 528.1,114.4 529.3,113.8 530.9,112.8 533.7,110.7 537.2,107.5 541.3,103.2" fill="none" stroke="#008000" stroke-width="1.6" stroke-linejoin="round" clip-path="url(#clipb)"/>
<path d="M320.50 66.20L324.10 59.60H316.90Z" fill="#fff" stroke="#008000" stroke-width="0.9" clip-path="url(#mclipb)"/>
<path d="M336.27 59.02L339.87 52.42H332.67Z" fill="#fff" stroke="#008000" stroke-width="0.9"/>
<path d="M352.04 54.92L355.64 48.32H348.44Z" fill="#fff" stroke="#008000" stroke-width="0.9"/>
<path d="M367.81 83.63L371.41 77.03H364.21Z" fill="#fff" stroke="#008000" stroke-width="0.9"/>
<path d="M383.59 14.95L387.19 8.35H379.99Z" fill="#fff" stroke="#008000" stroke-width="0.9" clip-path="url(#mclipb)"/>
<path d="M399.36 74.81L402.96 68.21H395.76Z" fill="#fff" stroke="#008000" stroke-width="0.9"/>
<path d="M415.13 58.82L418.73 52.22H411.53Z" fill="#fff" stroke="#008000" stroke-width="0.9"/>
<path d="M430.90 64.15L434.50 57.55H427.30Z" fill="#fff" stroke="#008000" stroke-width="0.9"/>
<path d="M446.67 80.55L450.27 73.95H443.07Z" fill="#fff" stroke="#008000" stroke-width="0.9"/>
<path d="M462.44 99.41L466.04 92.81H458.84Z" fill="#fff" stroke="#008000" stroke-width="0.9"/>
<path d="M478.21 128.52L481.81 121.92H474.61Z" fill="#fff" stroke="#008000" stroke-width="0.9"/>
<path d="M493.99 127.29L497.59 120.69H490.39Z" fill="#fff" stroke="#008000" stroke-width="0.9"/>
<path d="M509.76 120.94L513.36 114.34H506.16Z" fill="#fff" stroke="#008000" stroke-width="0.9"/>
<path d="M525.53 119.50L529.13 112.90H521.93Z" fill="#fff" stroke="#008000" stroke-width="0.9"/>
<path d="M541.30 107.61L544.90 101.01H537.70Z" fill="#fff" stroke="#008000" stroke-width="0.9" clip-path="url(#mclipb)"/>
<polyline points="320.5,60.6 325.2,57.8 330.0,55.4 335.3,53.3 341.9,51.1 345.1,50.5 352.0,49.5 354.6,48.9 355.8,48.7 356.5,48.7 357.4,49.0 358.0,49.4 359.0,50.1 360.2,51.4 361.8,53.3 362.5,54.3 363.1,55.6 364.0,58.2 365.0,61.5 365.9,65.9 367.2,73.5 367.8,79.2 368.4,98.5 368.8,104.8 369.4,74.2 369.7,64.3 370.0,59.9 370.3,56.7 371.3,49.5 373.2,33.4 373.8,29.0 375.1,21.9 375.7,19.0 377.0,14.1 377.6,12.6 378.5,11.5 379.2,11.0 379.5,11.0 380.4,11.2 381.7,12.0 382.0,12.3 383.0,13.6 383.3,13.9 383.6,14.0 383.9,13.9 384.2,13.6 385.2,12.3 385.5,12.0 386.4,11.3 387.4,11.0 387.7,11.0 388.0,11.2 388.6,12.1 389.3,13.2 389.6,13.9 390.2,16.0 391.8,22.2 393.4,29.8 394.6,36.9 395.6,43.0 397.5,55.9 398.4,63.6 399.4,70.4 399.7,78.1 400.6,118.3 400.9,123.3 401.2,108.5 401.6,85.6 401.9,77.0 402.2,71.9 402.5,60.8 402.8,61.1 403.8,63.5 404.1,63.9 404.7,63.7 405.4,63.1 407.2,60.9 408.2,60.0 408.8,59.8 409.8,59.7 415.4,59.5 418.6,59.8 421.1,60.3 424.0,61.0 425.9,61.7 427.4,62.6 429.3,63.9 430.6,65.6 431.2,66.1 432.5,66.9 435.3,68.0 436.3,68.5 437.8,69.5 439.4,70.8 443.2,74.3 449.8,80.9 453.9,85.2 460.2,92.3 463.1,95.8 465.6,99.1 468.4,103.0 472.9,109.7 474.4,112.2 475.7,114.4 477.0,116.9 477.9,119.0 479.8,124.1 481.4,129.8 482.6,135.9 483.3,139.9 483.6,143.0 485.2,163.5 485.8,170.2 486.4,174.4 486.7,174.5 487.4,174.5 488.3,159.8 488.6,156.1 489.9,147.0 491.1,139.5 492.1,135.1 493.0,131.7 494.0,129.4 495.6,127.0 496.8,125.4 498.4,123.8 500.3,122.3 503.1,120.4 506.0,118.9 521.4,111.7 525.5,109.6 529.3,107.3 533.1,104.9 537.2,102.1 541.3,99.1" fill="none" stroke="#ff8000" stroke-width="1.6" stroke-linejoin="round" clip-path="url(#clipb)"/>
<polygon points="320.50,56.97 321.41,59.32 323.92,59.46 321.97,61.05 322.62,63.48 320.50,62.12 318.38,63.48 319.03,61.05 317.08,59.46 319.59,59.32" fill="#fff" stroke="#ff8000" stroke-width="0.9" clip-path="url(#mclipb)"/>
<polygon points="336.27,49.38 337.18,51.73 339.70,51.87 337.75,53.46 338.39,55.90 336.27,54.53 334.16,55.90 334.80,53.46 332.85,51.87 335.36,51.73" fill="#fff" stroke="#ff8000" stroke-width="0.9"/>
<polygon points="352.04,45.90 352.95,48.25 355.47,48.39 353.52,49.98 354.16,52.41 352.04,51.05 349.93,52.41 350.57,49.98 348.62,48.39 351.13,48.25" fill="#fff" stroke="#ff8000" stroke-width="0.9"/>
<polygon points="367.81,75.63 368.73,77.97 371.24,78.11 369.29,79.70 369.93,82.14 367.81,80.78 365.70,82.14 366.34,79.70 364.39,78.11 366.90,77.97" fill="#fff" stroke="#ff8000" stroke-width="0.9"/>
<polygon points="383.59,6.95 384.50,9.30 387.01,9.44 385.06,11.03 385.70,13.46 383.59,12.10 381.47,13.46 382.11,11.03 380.16,9.44 382.67,9.30" fill="#fff" stroke="#ff8000" stroke-width="0.9" clip-path="url(#mclipb)"/>
<polygon points="399.36,66.81 400.27,69.16 402.78,69.30 400.83,70.89 401.47,73.32 399.36,71.96 397.24,73.32 397.88,70.89 395.93,69.30 398.45,69.16" fill="#fff" stroke="#ff8000" stroke-width="0.9"/>
<polygon points="415.13,55.94 416.04,58.29 418.55,58.43 416.60,60.02 417.24,62.46 415.13,61.09 413.01,62.46 413.65,60.02 411.70,58.43 414.22,58.29" fill="#fff" stroke="#ff8000" stroke-width="0.9"/>
<polygon points="430.90,62.30 431.81,64.65 434.32,64.79 432.37,66.38 433.02,68.81 430.90,67.45 428.78,68.81 429.43,66.38 427.48,64.79 429.99,64.65" fill="#fff" stroke="#ff8000" stroke-width="0.9"/>
<polygon points="446.67,74.19 447.58,76.54 450.10,76.68 448.15,78.27 448.79,80.70 446.67,79.34 444.56,80.70 445.20,78.27 443.25,76.68 445.76,76.54" fill="#fff" stroke="#ff8000" stroke-width="0.9"/>
<polygon points="462.44,91.41 463.35,93.76 465.87,93.90 463.92,95.49 464.56,97.92 462.44,96.56 460.33,97.92 460.97,95.49 459.02,93.90 461.53,93.76" fill="#fff" stroke="#ff8000" stroke-width="0.9"/>
<polygon points="478.21,116.22 479.13,118.56 481.64,118.70 479.69,120.29 480.33,122.73 478.21,121.36 476.10,122.73 476.74,120.29 474.79,118.70 477.30,118.56" fill="#fff" stroke="#ff8000" stroke-width="0.9"/>
<polygon points="493.99,125.85 494.90,128.20 497.41,128.34 495.46,129.93 496.10,132.36 493.99,131.00 491.87,132.36 492.51,129.93 490.56,128.34 493.07,128.20" fill="#fff" stroke="#ff8000" stroke-width="0.9"/>
<polygon points="509.76,113.55 510.67,115.90 513.18,116.04 511.23,117.63 511.87,120.06 509.76,118.70 507.64,120.06 508.28,117.63 506.33,116.04 508.85,115.90" fill="#fff" stroke="#ff8000" stroke-width="0.9"/>
<polygon points="525.53,105.97 526.44,108.31 528.95,108.45 527.00,110.04 527.64,112.48 525.53,111.11 523.41,112.48 524.05,110.04 522.10,108.45 524.62,108.31" fill="#fff" stroke="#ff8000" stroke-width="0.9"/>
<polygon points="541.30,95.51 542.21,97.86 544.72,98.00 542.77,99.59 543.42,102.02 541.30,100.66 539.18,102.02 539.83,99.59 537.88,98.00 540.39,97.86" fill="#fff" stroke="#ff8000" stroke-width="0.9" clip-path="url(#mclipb)"/>
<rect x="342.50" y="99.20" width="17.30" height="12.4" fill="#fff"/>
<text x="358.60" y="108.40" text-anchor="end" class="t">TZ1</text>
<rect x="409.80" y="117.70" width="17.30" height="12.4" fill="#fff"/>
<text x="411.00" y="126.90" text-anchor="start" class="t">TZ2</text>
<rect x="498.40" y="145.80" width="17.30" height="12.4" fill="#fff"/>
<text x="499.60" y="155.00" text-anchor="start" class="t">TZ3</text>
<rect x="429.40" y="16.10" width="107.30" height="47.30" fill="#fff" stroke="#a8a8a8" stroke-width="1.2"/>
<line x1="433.80" y1="25.30" x2="453.90" y2="25.30" stroke="#ff0000" stroke-width="1.6"/>
<rect x="441.05" y="22.50" width="5.6" height="5.6" fill="#fff" stroke="#ff0000" stroke-width="0.9"/>
<text x="455.50" y="28.30" class="t lg">|S<tspan class="sub" dy="2.3">dd21</tspan><tspan dy="-2.3">| (</tspan><tspan class="vi">c</tspan><tspan class="vb">1</tspan> = 0.8 mm)</text>
<line x1="433.80" y1="39.20" x2="453.90" y2="39.20" stroke="#0000ff" stroke-width="1.6"/>
<circle cx="443.85" cy="39.20" r="2.8" fill="#fff" stroke="#0000ff" stroke-width="0.9"/>
<text x="455.50" y="42.20" class="t lg">|S<tspan class="sub" dy="2.3">dd21</tspan><tspan dy="-2.3">| (</tspan><tspan class="vi">c</tspan><tspan class="vb">1</tspan> = 1.0 mm)</text>
<line x1="433.80" y1="53.60" x2="453.90" y2="53.60" stroke="#ff00ff" stroke-width="1.6"/>
<path d="M443.85 49.20L447.45 55.80H440.25Z" fill="#fff" stroke="#ff00ff" stroke-width="0.9"/>
<text x="455.50" y="56.60" class="t lg">|S<tspan class="sub" dy="2.3">dd21</tspan><tspan dy="-2.3">| (</tspan><tspan class="vi">c</tspan><tspan class="vb">1</tspan> = 1.2 mm)</text>
<rect x="325.80" y="135.30" width="107.20" height="33.30" fill="#fff" stroke="#a8a8a8" stroke-width="1.2"/>
<line x1="330.10" y1="144.60" x2="349.90" y2="144.60" stroke="#008000" stroke-width="1.6"/>
<path d="M340.00 149.00L343.60 142.40H336.40Z" fill="#fff" stroke="#008000" stroke-width="0.9"/>
<text x="352.00" y="147.60" class="t lg">|S<tspan class="sub" dy="2.3">dd21</tspan><tspan dy="-2.3">| (</tspan><tspan class="vi">c</tspan><tspan class="vb">1</tspan> = 1.4 mm)</text>
<line x1="330.10" y1="158.70" x2="349.90" y2="158.70" stroke="#ff8000" stroke-width="1.6"/>
<polygon points="340.00,155.10 340.91,157.45 343.42,157.59 341.47,159.18 342.12,161.61 340.00,160.25 337.88,161.61 338.53,159.18 336.58,157.59 339.09,157.45" fill="#fff" stroke="#ff8000" stroke-width="0.9"/>
<text x="352.00" y="161.70" class="t lg">|S<tspan class="sub" dy="2.3">dd21</tspan><tspan dy="-2.3">| (</tspan><tspan class="vi">c</tspan><tspan class="vb">1</tspan> = 1.6 mm)</text>
<text x="419.3" y="242" text-anchor="middle" class="cap">(b)</text>
<clipPath id="clipc"><rect x="37.6" y="264.3" width="219.6" height="169.2"/></clipPath>
<clipPath id="mclipc"><rect x="37.1" y="268.8" width="220.6" height="165.2"/></clipPath>
<path d="M53.29 269.30V433.50 M68.97 269.30V433.50 M84.66 269.30V433.50 M100.34 269.30V433.50 M116.03 269.30V433.50 M131.71 269.30V433.50 M147.40 269.30V433.50 M163.09 269.30V433.50 M178.77 269.30V433.50 M194.46 269.30V433.50 M210.14 269.30V433.50 M225.83 269.30V433.50 M241.51 269.30V433.50 M37.60 412.98H257.20 M37.60 392.45H257.20 M37.60 371.93H257.20 M37.60 351.40H257.20 M37.60 330.88H257.20 M37.60 310.35H257.20 M37.60 289.82H257.20" stroke="#d2d2d2" stroke-width="0.9" stroke-dasharray="1 1.2" fill="none"/>
<path d="M37.60 433.50v3 M37.60 269.30v3 M53.29 433.50v1.8 M53.29 269.30v1.8 M68.97 433.50v3 M68.97 269.30v3 M84.66 433.50v1.8 M84.66 269.30v1.8 M100.34 433.50v3 M100.34 269.30v3 M116.03 433.50v1.8 M116.03 269.30v1.8 M131.71 433.50v3 M131.71 269.30v3 M147.40 433.50v1.8 M147.40 269.30v1.8 M163.09 433.50v3 M163.09 269.30v3 M178.77 433.50v1.8 M178.77 269.30v1.8 M194.46 433.50v3 M194.46 269.30v3 M210.14 433.50v1.8 M210.14 269.30v1.8 M225.83 433.50v3 M225.83 269.30v3 M241.51 433.50v1.8 M241.51 269.30v1.8 M257.20 433.50v3 M257.20 269.30v3 M37.60 433.50h-3 M257.20 433.50h-3 M37.60 412.98h-1.8 M257.20 412.98h-1.8 M37.60 392.45h-3 M257.20 392.45h-3 M37.60 371.93h-1.8 M257.20 371.93h-1.8 M37.60 351.40h-3 M257.20 351.40h-3 M37.60 330.88h-1.8 M257.20 330.88h-1.8 M37.60 310.35h-3 M257.20 310.35h-3 M37.60 289.82h-1.8 M257.20 289.82h-1.8 M37.60 269.30h-3 M257.20 269.30h-3" stroke="#444" stroke-width="1" fill="none"/>
<rect x="37.60" y="269.30" width="219.60" height="164.20" fill="none" stroke="#444" stroke-width="1.05"/>
<text x="38.00" y="446.30" text-anchor="middle" class="t">6</text>
<text x="69.37" y="446.30" text-anchor="middle" class="t">8</text>
<text x="100.74" y="446.30" text-anchor="middle" class="t">10</text>
<text x="132.11" y="446.30" text-anchor="middle" class="t">12</text>
<text x="163.49" y="446.30" text-anchor="middle" class="t">14</text>
<text x="194.86" y="446.30" text-anchor="middle" class="t">16</text>
<text x="226.23" y="446.30" text-anchor="middle" class="t">18</text>
<text x="257.60" y="446.30" text-anchor="middle" class="t">20</text>
<text x="31.30" y="435.70" text-anchor="end" class="t">-80</text>
<text x="31.30" y="394.65" text-anchor="end" class="t">-60</text>
<text x="31.30" y="353.60" text-anchor="end" class="t">-40</text>
<text x="31.30" y="312.55" text-anchor="end" class="t">-20</text>
<text x="31.30" y="271.50" text-anchor="end" class="t">0</text>
<text x="147.50" y="458.70" text-anchor="middle" class="t">Frequency (GHz)</text>
<text transform="translate(12.10 356.30) rotate(-90)" text-anchor="middle" class="t">Magnitude (dB)</text>
<ellipse cx="218.20" cy="396.70" rx="29.2" ry="18.7" fill="#7f7f7f" stroke="#1a1a1a" stroke-width="1"/>
<circle cx="85.00" cy="365.90" r="6.3" fill="#7f7f7f" stroke="#1a1a1a" stroke-width="1"/>
<circle cx="116.90" cy="382.40" r="6.3" fill="#7f7f7f" stroke="#1a1a1a" stroke-width="1"/>
<polyline points="37.6,323.7 41.7,321.6 45.4,320.0 48.0,319.1 53.3,317.5 58.6,315.6 60.8,314.9 63.0,314.5 68.7,313.5 71.8,312.6 72.7,312.4 73.4,312.4 74.3,312.8 74.9,313.1 75.9,313.8 76.8,314.8 78.1,316.3 79.0,317.5 79.6,318.6 80.3,320.2 81.2,323.1 81.8,325.3 82.5,328.1 84.0,337.5 84.7,343.2 85.3,360.7 85.6,365.8 86.2,334.0 86.5,324.7 86.9,320.5 90.0,294.2 90.6,289.8 91.9,282.8 92.5,279.8 93.8,274.9 94.4,273.4 95.3,272.3 96.0,271.8 96.3,271.8 97.2,272.0 98.5,272.8 98.8,273.1 99.7,274.4 100.0,274.7 100.3,274.8 100.7,274.7 101.0,274.4 101.9,273.1 102.2,272.8 103.5,272.0 104.1,271.8 104.4,271.8 104.7,272.0 105.4,272.9 106.0,274.0 106.6,275.7 108.2,281.7 109.8,289.0 111.0,295.9 112.3,303.8 114.1,316.8 115.7,329.2 116.0,332.9 116.7,377.5 117.0,378.1 117.6,340.9 117.9,333.6 118.2,328.8 118.5,325.8 119.8,318.1 120.4,315.3 121.0,313.8 122.3,311.6 122.9,310.7 123.9,309.7 125.1,308.8 126.4,308.4 128.6,307.9 131.1,307.5 135.8,307.2 139.6,307.1 141.1,307.2 142.7,307.6 147.1,309.2 154.6,311.5 159.3,313.1 163.1,314.5 167.8,316.3 172.2,318.2 175.9,320.1 179.4,322.0 182.2,323.9 184.7,325.8 187.6,328.2 197.3,336.6 201.7,340.5 207.0,345.5 215.5,353.7 221.4,359.7 225.2,364.0 227.7,367.2 234.3,377.0 237.4,382.7 238.7,384.8 239.9,386.3 240.9,387.0 241.5,387.1 242.1,386.9 242.8,386.4 243.4,385.6 244.7,383.4 247.8,376.2 249.0,373.8 251.6,370.4 257.2,363.7" fill="none" stroke="#ff0000" stroke-width="1.6" stroke-linejoin="round" clip-path="url(#clipc)"/>
<rect x="34.80" y="320.89" width="5.6" height="5.6" fill="#fff" stroke="#ff0000" stroke-width="0.9" clip-path="url(#mclipc)"/>
<rect x="50.49" y="314.73" width="5.6" height="5.6" fill="#fff" stroke="#ff0000" stroke-width="0.9"/>
<rect x="66.17" y="310.63" width="5.6" height="5.6" fill="#fff" stroke="#ff0000" stroke-width="0.9"/>
<rect x="81.86" y="340.39" width="5.6" height="5.6" fill="#fff" stroke="#ff0000" stroke-width="0.9"/>
<rect x="97.54" y="268.55" width="5.6" height="5.6" fill="#fff" stroke="#ff0000" stroke-width="0.9" clip-path="url(#mclipc)"/>
<rect x="113.23" y="330.13" width="5.6" height="5.6" fill="#fff" stroke="#ff0000" stroke-width="0.9"/>
<rect x="128.91" y="304.68" width="5.6" height="5.6" fill="#fff" stroke="#ff0000" stroke-width="0.9"/>
<rect x="144.60" y="306.52" width="5.6" height="5.6" fill="#fff" stroke="#ff0000" stroke-width="0.9"/>
<rect x="160.29" y="311.66" width="5.6" height="5.6" fill="#fff" stroke="#ff0000" stroke-width="0.9"/>
<rect x="175.97" y="318.84" width="5.6" height="5.6" fill="#fff" stroke="#ff0000" stroke-width="0.9"/>
<rect x="191.66" y="331.36" width="5.6" height="5.6" fill="#fff" stroke="#ff0000" stroke-width="0.9"/>
<rect x="207.34" y="345.73" width="5.6" height="5.6" fill="#fff" stroke="#ff0000" stroke-width="0.9"/>
<rect x="223.03" y="361.94" width="5.6" height="5.6" fill="#fff" stroke="#ff0000" stroke-width="0.9"/>
<rect x="238.71" y="384.31" width="5.6" height="5.6" fill="#fff" stroke="#ff0000" stroke-width="0.9"/>
<rect x="254.40" y="360.92" width="5.6" height="5.6" fill="#fff" stroke="#ff0000" stroke-width="0.9" clip-path="url(#mclipc)"/>
<polyline points="37.6,324.3 41.7,322.2 45.4,320.5 48.0,319.6 53.3,317.9 58.3,316.1 60.5,315.4 62.7,314.9 69.0,313.8 71.5,313.0 72.4,312.8 73.4,312.9 74.0,313.0 74.6,313.3 75.6,314.0 76.5,314.9 77.8,316.3 79.0,318.0 79.6,319.1 80.3,320.7 81.2,323.6 81.8,325.8 82.5,328.7 84.0,338.2 84.7,344.2 85.3,361.5 85.6,365.6 86.2,332.9 86.5,324.3 87.2,317.3 88.1,310.4 90.0,294.2 90.6,289.8 91.9,282.8 92.5,279.8 93.8,274.9 94.4,273.4 95.3,272.3 96.0,271.8 96.3,271.8 97.2,272.0 98.5,272.8 98.8,273.1 99.7,274.4 100.0,274.7 100.3,274.8 100.7,274.7 101.0,274.4 101.9,273.1 102.2,272.8 103.5,272.0 104.1,271.8 104.4,271.8 104.7,272.0 105.4,272.9 106.0,274.0 106.6,275.7 108.2,281.7 109.8,289.0 111.0,295.9 112.3,303.8 114.1,316.8 115.7,329.2 116.0,332.9 116.7,377.5 117.0,378.1 117.6,340.9 117.9,333.6 118.2,328.8 118.5,325.8 119.8,318.1 120.4,315.3 120.7,314.5 122.0,312.1 122.6,311.1 123.6,310.0 124.5,309.2 125.4,308.7 127.9,308.0 130.1,307.6 132.3,307.5 135.5,307.7 139.6,308.3 141.1,308.8 142.7,309.6 147.4,312.4 161.2,318.7 171.9,323.9 176.9,326.8 179.1,328.2 181.0,329.6 183.8,332.0 187.2,335.2 194.1,342.1 202.6,350.2 205.1,352.8 207.6,355.5 210.5,359.0 213.0,362.7 218.6,371.9 222.4,378.8 223.9,381.3 224.9,382.4 225.5,383.0 227.4,384.2 228.7,384.8 229.9,385.2 230.8,385.2 231.8,384.9 232.7,384.3 234.0,383.1 237.7,379.2 241.2,375.3 244.3,372.3 250.9,366.5 257.2,361.5" fill="none" stroke="#0000ff" stroke-width="1.6" stroke-linejoin="round" clip-path="url(#clipc)"/>
<circle cx="37.60" cy="324.31" r="2.8" fill="#fff" stroke="#0000ff" stroke-width="0.9" clip-path="url(#mclipc)"/>
<circle cx="53.29" cy="317.94" r="2.8" fill="#fff" stroke="#0000ff" stroke-width="0.9"/>
<circle cx="68.97" cy="313.84" r="2.8" fill="#fff" stroke="#0000ff" stroke-width="0.9"/>
<circle cx="84.66" cy="344.22" r="2.8" fill="#fff" stroke="#0000ff" stroke-width="0.9"/>
<circle cx="100.34" cy="271.35" r="2.8" fill="#fff" stroke="#0000ff" stroke-width="0.9" clip-path="url(#mclipc)"/>
<circle cx="116.03" cy="332.93" r="2.8" fill="#fff" stroke="#0000ff" stroke-width="0.9"/>
<circle cx="131.71" cy="307.48" r="2.8" fill="#fff" stroke="#0000ff" stroke-width="0.9"/>
<circle cx="147.40" cy="312.40" r="2.8" fill="#fff" stroke="#0000ff" stroke-width="0.9"/>
<circle cx="163.09" cy="319.59" r="2.8" fill="#fff" stroke="#0000ff" stroke-width="0.9"/>
<circle cx="178.77" cy="328.00" r="2.8" fill="#fff" stroke="#0000ff" stroke-width="0.9"/>
<circle cx="194.46" cy="342.37" r="2.8" fill="#fff" stroke="#0000ff" stroke-width="0.9"/>
<circle cx="210.14" cy="358.58" r="2.8" fill="#fff" stroke="#0000ff" stroke-width="0.9"/>
<circle cx="225.83" cy="383.21" r="2.8" fill="#fff" stroke="#0000ff" stroke-width="0.9"/>
<circle cx="241.51" cy="375.00" r="2.8" fill="#fff" stroke="#0000ff" stroke-width="0.9"/>
<circle cx="257.20" cy="361.46" r="2.8" fill="#fff" stroke="#0000ff" stroke-width="0.9" clip-path="url(#mclipc)"/>
<polyline points="37.6,324.7 41.7,322.6 45.4,321.0 48.0,320.2 53.3,318.6 58.3,316.7 60.5,316.1 62.7,315.6 69.0,314.5 71.5,313.7 72.4,313.5 73.4,313.5 74.0,313.7 74.6,314.0 75.6,314.6 76.5,315.5 77.8,317.0 79.0,318.7 79.6,319.9 80.3,321.5 81.2,324.4 81.8,326.7 82.5,329.6 83.7,337.3 84.3,342.6 84.7,346.3 85.3,363.1 85.6,364.0 86.2,330.5 86.5,323.3 87.2,316.9 88.1,310.4 90.0,294.2 90.6,289.8 91.9,282.8 92.5,279.8 93.8,274.9 94.4,273.4 95.3,272.3 96.0,271.8 96.3,271.8 97.2,272.0 98.5,272.8 98.8,273.1 99.7,274.4 100.0,274.7 100.3,274.8 100.7,274.7 101.0,274.4 101.9,273.1 102.2,272.8 103.5,272.0 104.1,271.8 104.4,271.8 104.7,272.0 105.4,272.9 106.3,274.7 107.9,280.4 109.1,285.9 110.4,292.3 111.6,299.7 113.8,314.6 114.8,321.6 115.7,330.2 116.0,335.0 116.7,377.8 117.0,378.1 117.6,340.9 117.9,333.6 118.2,328.8 118.5,325.8 119.5,319.8 120.1,316.6 120.7,314.5 122.0,312.1 123.2,310.3 124.2,309.4 125.1,308.8 127.6,308.0 129.8,307.6 132.3,307.5 134.9,307.9 136.7,308.4 139.6,309.3 141.4,310.2 147.4,314.5 160.6,322.1 168.1,327.1 172.2,330.0 175.6,332.7 179.1,335.7 181.9,338.4 184.7,341.3 187.6,344.5 197.3,356.0 200.4,360.0 202.9,363.7 204.5,366.3 206.1,369.3 209.5,376.5 211.1,380.2 215.8,393.2 216.4,394.4 216.7,394.7 217.0,394.7 217.4,394.3 218.0,392.8 219.2,389.0 220.2,387.3 221.4,385.5 223.0,383.5 224.6,381.8 226.8,379.6 229.3,377.4 232.1,375.0 235.2,372.7 238.7,370.3 243.1,367.4 246.8,365.1 250.3,363.1 253.7,361.3 257.2,359.6" fill="none" stroke="#ff00ff" stroke-width="1.6" stroke-linejoin="round" clip-path="url(#clipc)"/>
<path d="M37.60 320.32L41.20 326.92H34.00Z" fill="#fff" stroke="#ff00ff" stroke-width="0.9" clip-path="url(#mclipc)"/>
<path d="M53.29 314.16L56.89 320.76H49.69Z" fill="#fff" stroke="#ff00ff" stroke-width="0.9"/>
<path d="M68.97 310.06L72.57 316.66H65.37Z" fill="#fff" stroke="#ff00ff" stroke-width="0.9"/>
<path d="M84.66 341.87L88.26 348.47H81.06Z" fill="#fff" stroke="#ff00ff" stroke-width="0.9"/>
<path d="M100.34 266.95L103.94 273.55H96.74Z" fill="#fff" stroke="#ff00ff" stroke-width="0.9" clip-path="url(#mclipc)"/>
<path d="M116.03 330.58L119.63 337.18H112.43Z" fill="#fff" stroke="#ff00ff" stroke-width="0.9"/>
<path d="M131.71 303.08L135.31 309.68H128.11Z" fill="#fff" stroke="#ff00ff" stroke-width="0.9"/>
<path d="M147.40 310.06L151.00 316.66H143.80Z" fill="#fff" stroke="#ff00ff" stroke-width="0.9"/>
<path d="M163.09 319.29L166.69 325.89H159.49Z" fill="#fff" stroke="#ff00ff" stroke-width="0.9"/>
<path d="M178.77 330.99L182.37 337.59H175.17Z" fill="#fff" stroke="#ff00ff" stroke-width="0.9"/>
<path d="M194.46 348.23L198.06 354.83H190.86Z" fill="#fff" stroke="#ff00ff" stroke-width="0.9"/>
<path d="M210.14 373.48L213.74 380.08H206.54Z" fill="#fff" stroke="#ff00ff" stroke-width="0.9"/>
<path d="M225.83 376.15L229.43 382.75H222.23Z" fill="#fff" stroke="#ff00ff" stroke-width="0.9"/>
<path d="M241.51 364.04L245.11 370.64H237.91Z" fill="#fff" stroke="#ff00ff" stroke-width="0.9"/>
<path d="M257.20 355.21L260.80 361.81H253.60Z" fill="#fff" stroke="#ff00ff" stroke-width="0.9" clip-path="url(#mclipc)"/>
<polyline points="37.6,322.7 41.7,320.6 45.4,319.0 48.0,318.1 53.3,316.5 58.6,314.6 60.8,313.9 63.0,313.4 68.7,312.5 71.8,311.5 72.7,311.4 73.4,311.4 74.3,311.7 74.9,312.0 75.9,312.8 77.1,314.0 78.4,315.5 79.3,316.8 80.0,318.0 80.6,319.6 81.5,322.7 82.1,325.0 82.8,328.0 84.0,335.6 84.7,341.1 85.6,364.9 85.9,360.0 86.2,339.6 86.5,327.8 86.9,322.0 87.5,315.5 90.0,294.2 90.6,289.8 91.9,282.8 92.5,279.8 93.8,274.9 94.4,273.4 95.3,272.3 96.0,271.8 96.3,271.8 97.2,272.0 98.5,272.8 98.8,273.1 99.7,274.4 100.0,274.7 100.3,274.8 100.7,274.7 101.0,274.4 101.9,273.1 102.2,272.8 103.5,272.0 104.1,271.8 104.4,271.8 104.7,272.0 105.4,272.9 106.0,274.0 106.6,275.7 108.2,281.7 109.8,289.0 111.0,295.9 112.3,303.8 114.1,316.8 115.7,329.2 116.0,332.9 116.7,377.5 117.0,378.1 117.6,340.9 117.9,333.6 118.2,328.8 118.5,325.7 119.2,321.6 119.8,319.5 120.7,317.5 122.6,314.5 123.6,313.4 124.2,312.7 125.1,312.1 127.0,311.6 129.2,311.1 131.4,311.0 133.3,311.1 135.2,311.6 139.6,313.4 141.1,314.2 143.0,315.4 147.7,318.8 158.1,325.3 160.6,327.1 162.8,328.8 164.7,330.4 166.5,332.2 170.9,336.9 174.4,340.9 181.3,349.3 186.3,355.6 190.7,361.7 194.5,367.6 196.3,371.0 197.9,374.0 200.7,380.2 202.6,385.1 204.2,390.1 207.3,402.0 209.2,411.4 209.5,412.4 209.8,413.1 210.1,413.4 210.5,413.1 210.8,412.2 211.1,410.9 213.0,400.0 214.5,393.8 215.8,389.4 216.7,386.6 217.7,384.7 218.6,383.6 219.9,382.4 221.4,381.3 223.0,380.5 229.9,377.0 232.1,376.2 233.4,376.0 234.9,376.1 236.2,376.4 239.3,377.4 240.9,377.6 242.1,377.6 243.1,377.3 244.3,376.5 245.9,375.2 250.0,371.3 252.8,367.8 253.7,366.8 254.7,366.0 255.3,365.8 255.6,365.8 255.9,366.3 256.3,367.8 257.2,374.4" fill="none" stroke="#008000" stroke-width="1.6" stroke-linejoin="round" clip-path="url(#clipc)"/>
<path d="M37.60 327.06L41.20 320.47H34.00Z" fill="#fff" stroke="#008000" stroke-width="0.9" clip-path="url(#mclipc)"/>
<path d="M53.29 320.91L56.89 314.31H49.69Z" fill="#fff" stroke="#008000" stroke-width="0.9"/>
<path d="M68.97 316.80L72.57 310.20H65.37Z" fill="#fff" stroke="#008000" stroke-width="0.9"/>
<path d="M84.66 345.54L88.26 338.94H81.06Z" fill="#fff" stroke="#008000" stroke-width="0.9"/>
<path d="M100.34 275.75L103.94 269.15H96.74Z" fill="#fff" stroke="#008000" stroke-width="0.9" clip-path="url(#mclipc)"/>
<path d="M116.03 337.33L119.63 330.73H112.43Z" fill="#fff" stroke="#008000" stroke-width="0.9"/>
<path d="M131.71 315.37L135.31 308.77H128.11Z" fill="#fff" stroke="#008000" stroke-width="0.9"/>
<path d="M147.40 322.96L151.00 316.36H143.80Z" fill="#fff" stroke="#008000" stroke-width="0.9"/>
<path d="M163.09 333.43L166.69 326.83H159.49Z" fill="#fff" stroke="#008000" stroke-width="0.9"/>
<path d="M178.77 350.67L182.37 344.07H175.17Z" fill="#fff" stroke="#008000" stroke-width="0.9"/>
<path d="M194.46 372.01L198.06 365.41H190.86Z" fill="#fff" stroke="#008000" stroke-width="0.9"/>
<path d="M210.14 417.79L213.74 411.19H206.54Z" fill="#fff" stroke="#008000" stroke-width="0.9"/>
<path d="M225.83 383.51L229.43 376.91H222.23Z" fill="#fff" stroke="#008000" stroke-width="0.9"/>
<path d="M241.51 382.07L245.11 375.47H237.91Z" fill="#fff" stroke="#008000" stroke-width="0.9"/>
<path d="M257.20 378.79L260.80 372.19H253.60Z" fill="#fff" stroke="#008000" stroke-width="0.9" clip-path="url(#mclipc)"/>
<polyline points="37.6,321.2 41.7,319.2 45.1,317.9 47.3,317.1 53.3,315.5 58.9,313.5 61.1,312.8 68.7,311.4 71.8,310.5 72.7,310.4 73.4,310.4 74.3,310.7 75.2,311.2 76.2,312.0 77.4,313.3 78.7,314.9 79.3,315.7 80.0,317.0 80.6,318.6 81.5,321.7 82.1,324.0 82.8,327.0 84.0,334.6 84.7,340.1 85.6,364.8 85.9,360.0 86.2,339.6 86.5,327.8 86.9,322.0 87.5,315.5 90.0,294.2 90.6,289.8 91.9,282.8 92.5,279.8 93.8,274.9 94.4,273.4 95.3,272.3 96.0,271.8 96.3,271.8 97.2,272.0 98.5,272.8 98.8,273.1 99.7,274.4 100.0,274.7 100.3,274.8 100.7,274.7 101.0,274.4 101.9,273.1 102.2,272.8 103.5,272.0 104.1,271.8 104.4,271.8 104.7,272.0 105.4,272.9 106.0,274.0 106.6,275.7 108.2,281.7 109.8,289.0 110.7,294.1 112.0,301.7 114.1,316.8 115.1,324.5 115.7,328.8 116.0,331.9 116.7,377.3 117.0,378.1 117.6,340.9 117.9,333.6 118.2,328.8 118.9,323.2 119.2,321.6 119.5,320.7 120.1,319.5 122.3,316.3 123.9,314.5 124.5,313.9 125.1,313.5 126.7,313.1 128.6,312.7 130.5,312.5 132.0,312.4 133.3,312.5 134.9,312.8 136.4,313.3 138.6,314.1 139.9,314.6 141.1,315.3 142.4,316.2 143.9,317.5 151.8,324.7 155.2,328.2 158.7,332.0 165.0,339.3 170.3,346.0 175.3,353.0 180.3,360.6 183.5,365.9 186.3,371.3 189.8,378.5 192.3,384.7 193.8,389.4 194.8,392.7 195.4,396.0 197.0,405.8 197.6,408.4 197.9,409.2 198.2,409.5 198.5,409.3 198.8,408.7 199.5,406.5 202.0,393.6 203.9,387.4 204.8,384.5 205.8,382.2 206.7,380.5 207.6,379.5 208.9,378.6 210.1,378.1 213.6,377.4 216.7,377.1 218.3,377.1 219.6,377.2 223.6,378.4 225.2,378.7 227.1,378.7 229.3,378.4 231.8,377.9 234.6,377.1 237.7,375.9 241.2,374.3 242.5,373.7 243.7,372.7 245.3,371.3 247.2,369.2 250.3,365.7 252.2,363.5 254.7,360.1 257.2,356.5" fill="none" stroke="#ff8000" stroke-width="1.6" stroke-linejoin="round" clip-path="url(#clipc)"/>
<polygon points="37.60,317.63 38.51,319.97 41.02,320.12 39.07,321.71 39.72,324.14 37.60,322.78 35.48,324.14 36.13,321.71 34.18,320.12 36.69,319.97" fill="#fff" stroke="#ff8000" stroke-width="0.9" clip-path="url(#mclipc)"/>
<polygon points="53.29,311.88 54.20,314.23 56.71,314.37 54.76,315.96 55.40,318.39 53.29,317.03 51.17,318.39 51.81,315.96 49.86,314.37 52.37,314.23" fill="#fff" stroke="#ff8000" stroke-width="0.9"/>
<polygon points="68.97,307.78 69.88,310.12 72.40,310.26 70.45,311.86 71.09,314.29 68.97,312.93 66.86,314.29 67.50,311.86 65.55,310.26 68.06,310.12" fill="#fff" stroke="#ff8000" stroke-width="0.9"/>
<polygon points="84.66,336.51 85.57,338.86 88.08,339.00 86.13,340.59 86.77,343.02 84.66,341.66 82.54,343.02 83.18,340.59 81.23,339.00 83.75,338.86" fill="#fff" stroke="#ff8000" stroke-width="0.9"/>
<polygon points="100.34,267.75 101.25,270.10 103.77,270.24 101.82,271.83 102.46,274.26 100.34,272.90 98.23,274.26 98.87,271.83 96.92,270.24 99.43,270.10" fill="#fff" stroke="#ff8000" stroke-width="0.9" clip-path="url(#mclipc)"/>
<polygon points="116.03,328.30 116.94,330.65 119.45,330.79 117.50,332.38 118.14,334.81 116.03,333.45 113.91,334.81 114.55,332.38 112.60,330.79 115.12,330.65" fill="#fff" stroke="#ff8000" stroke-width="0.9"/>
<polygon points="131.71,308.80 132.63,311.15 135.14,311.29 133.19,312.88 133.83,315.31 131.71,313.95 129.60,315.31 130.24,312.88 128.29,311.29 130.80,311.15" fill="#fff" stroke="#ff8000" stroke-width="0.9"/>
<polygon points="147.40,317.01 148.31,319.36 150.82,319.50 148.87,321.09 149.52,323.52 147.40,322.16 145.28,323.52 145.93,321.09 143.98,319.50 146.49,319.36" fill="#fff" stroke="#ff8000" stroke-width="0.9"/>
<polygon points="163.09,333.43 164.00,335.78 166.51,335.92 164.56,337.51 165.20,339.94 163.09,338.58 160.97,339.94 161.61,337.51 159.66,335.92 162.17,335.78" fill="#fff" stroke="#ff8000" stroke-width="0.9"/>
<polygon points="178.77,354.57 179.68,356.92 182.20,357.06 180.25,358.65 180.89,361.09 178.77,359.72 176.66,361.09 177.30,358.65 175.35,357.06 177.86,356.92" fill="#fff" stroke="#ff8000" stroke-width="0.9"/>
<polygon points="194.46,387.82 195.37,390.17 197.88,390.31 195.93,391.90 196.57,394.34 194.46,392.97 192.34,394.34 192.98,391.90 191.03,390.31 193.55,390.17" fill="#fff" stroke="#ff8000" stroke-width="0.9"/>
<polygon points="210.14,374.48 211.05,376.83 213.57,376.97 211.62,378.56 212.26,380.99 210.14,379.63 208.03,380.99 208.67,378.56 206.72,376.97 209.23,376.83" fill="#fff" stroke="#ff8000" stroke-width="0.9"/>
<polygon points="225.83,375.10 226.74,377.44 229.25,377.59 227.30,379.18 227.94,381.61 225.83,380.25 223.71,381.61 224.35,379.18 222.40,377.59 224.92,377.44" fill="#fff" stroke="#ff8000" stroke-width="0.9"/>
<polygon points="241.51,370.58 242.43,372.93 244.94,373.07 242.99,374.66 243.63,377.10 241.51,375.73 239.40,377.10 240.04,374.66 238.09,373.07 240.60,372.93" fill="#fff" stroke="#ff8000" stroke-width="0.9"/>
<polygon points="257.20,352.93 258.11,355.28 260.62,355.42 258.67,357.01 259.32,359.44 257.20,358.08 255.08,359.44 255.73,357.01 253.78,355.42 256.29,355.28" fill="#fff" stroke="#ff8000" stroke-width="0.9" clip-path="url(#mclipc)"/>
<rect x="57.80" y="357.70" width="17.30" height="12.4" fill="#fff"/>
<text x="73.90" y="366.90" text-anchor="end" class="t">TZ1</text>
<rect x="125.80" y="375.70" width="17.30" height="12.4" fill="#fff"/>
<text x="127.00" y="384.90" text-anchor="start" class="t">TZ2</text>
<rect x="215.5" y="396.7" width="19.6" height="12.7" fill="#fff" stroke="#d0d0d0" stroke-width="0.6"/>
<text x="225.30" y="406.00" text-anchor="middle" class="t">TZ3</text>
<rect x="144.40" y="276.10" width="107.30" height="47.30" fill="#fff" stroke="#a8a8a8" stroke-width="1.2"/>
<line x1="148.30" y1="285.30" x2="168.40" y2="285.30" stroke="#ff0000" stroke-width="1.6"/>
<rect x="155.55" y="282.50" width="5.6" height="5.6" fill="#fff" stroke="#ff0000" stroke-width="0.9"/>
<text x="170.50" y="288.30" class="t lg">|S<tspan class="sub" dy="2.3">dd21</tspan><tspan dy="-2.3">| (</tspan><tspan class="vi">b</tspan><tspan class="vb">1</tspan> = 3.2 mm)</text>
<line x1="148.30" y1="299.20" x2="168.40" y2="299.20" stroke="#0000ff" stroke-width="1.6"/>
<circle cx="158.35" cy="299.20" r="2.8" fill="#fff" stroke="#0000ff" stroke-width="0.9"/>
<text x="170.50" y="302.20" class="t lg">|S<tspan class="sub" dy="2.3">dd21</tspan><tspan dy="-2.3">| (</tspan><tspan class="vi">b</tspan><tspan class="vb">1</tspan> = 3.4 mm)</text>
<line x1="148.30" y1="313.60" x2="168.40" y2="313.60" stroke="#ff00ff" stroke-width="1.6"/>
<path d="M158.35 309.20L161.95 315.80H154.75Z" fill="#fff" stroke="#ff00ff" stroke-width="0.9"/>
<text x="170.50" y="316.60" class="t lg">|S<tspan class="sub" dy="2.3">dd21</tspan><tspan dy="-2.3">| (</tspan><tspan class="vi">b</tspan><tspan class="vb">1</tspan> = 3.6 mm)</text>
<rect x="45.00" y="396.30" width="105.60" height="33.40" fill="#fff" stroke="#a8a8a8" stroke-width="1.2"/>
<line x1="49.40" y1="405.60" x2="69.00" y2="405.60" stroke="#008000" stroke-width="1.6"/>
<path d="M59.20 410.00L62.80 403.40H55.60Z" fill="#fff" stroke="#008000" stroke-width="0.9"/>
<text x="70.50" y="408.60" class="t lg">|S<tspan class="sub" dy="2.3">dd21</tspan><tspan dy="-2.3">| (</tspan><tspan class="vi">b</tspan><tspan class="vb">1</tspan> = 3.8 mm)</text>
<line x1="49.40" y1="419.40" x2="69.00" y2="419.40" stroke="#ff8000" stroke-width="1.6"/>
<polygon points="59.20,415.80 60.11,418.15 62.62,418.29 60.67,419.88 61.32,422.31 59.20,420.95 57.08,422.31 57.73,419.88 55.78,418.29 58.29,418.15" fill="#fff" stroke="#ff8000" stroke-width="0.9"/>
<text x="70.50" y="422.40" class="t lg">|S<tspan class="sub" dy="2.3">dd21</tspan><tspan dy="-2.3">| (</tspan><tspan class="vi">b</tspan><tspan class="vb">1</tspan> = 4.0 mm)</text>
<text x="135.7" y="501.4" text-anchor="middle" class="cap">(c)</text>
<clipPath id="clipd"><rect x="321.1" y="264.2" width="219.89999999999998" height="169.40000000000003"/></clipPath>
<clipPath id="mclipd"><rect x="320.6" y="268.7" width="220.89999999999998" height="165.40000000000003"/></clipPath>
<path d="M336.81 269.20V433.60 M352.51 269.20V433.60 M368.22 269.20V433.60 M383.93 269.20V433.60 M399.64 269.20V433.60 M415.34 269.20V433.60 M431.05 269.20V433.60 M446.76 269.20V433.60 M462.46 269.20V433.60 M478.17 269.20V433.60 M493.88 269.20V433.60 M509.59 269.20V433.60 M525.29 269.20V433.60 M321.10 413.05H541.00 M321.10 392.50H541.00 M321.10 371.95H541.00 M321.10 351.40H541.00 M321.10 330.85H541.00 M321.10 310.30H541.00 M321.10 289.75H541.00" stroke="#d2d2d2" stroke-width="0.9" stroke-dasharray="1 1.2" fill="none"/>
<path d="M321.10 433.60v3 M321.10 269.20v3 M336.81 433.60v1.8 M336.81 269.20v1.8 M352.51 433.60v3 M352.51 269.20v3 M368.22 433.60v1.8 M368.22 269.20v1.8 M383.93 433.60v3 M383.93 269.20v3 M399.64 433.60v1.8 M399.64 269.20v1.8 M415.34 433.60v3 M415.34 269.20v3 M431.05 433.60v1.8 M431.05 269.20v1.8 M446.76 433.60v3 M446.76 269.20v3 M462.46 433.60v1.8 M462.46 269.20v1.8 M478.17 433.60v3 M478.17 269.20v3 M493.88 433.60v1.8 M493.88 269.20v1.8 M509.59 433.60v3 M509.59 269.20v3 M525.29 433.60v1.8 M525.29 269.20v1.8 M541.00 433.60v3 M541.00 269.20v3 M321.10 433.60h-3 M541.00 433.60h-3 M321.10 413.05h-1.8 M541.00 413.05h-1.8 M321.10 392.50h-3 M541.00 392.50h-3 M321.10 371.95h-1.8 M541.00 371.95h-1.8 M321.10 351.40h-3 M541.00 351.40h-3 M321.10 330.85h-1.8 M541.00 330.85h-1.8 M321.10 310.30h-3 M541.00 310.30h-3 M321.10 289.75h-1.8 M541.00 289.75h-1.8 M321.10 269.20h-3 M541.00 269.20h-3" stroke="#444" stroke-width="1" fill="none"/>
<rect x="321.10" y="269.20" width="219.90" height="164.40" fill="none" stroke="#444" stroke-width="1.05"/>
<text x="321.50" y="446.40" text-anchor="middle" class="t">6</text>
<text x="352.91" y="446.40" text-anchor="middle" class="t">8</text>
<text x="384.33" y="446.40" text-anchor="middle" class="t">10</text>
<text x="415.74" y="446.40" text-anchor="middle" class="t">12</text>
<text x="447.16" y="446.40" text-anchor="middle" class="t">14</text>
<text x="478.57" y="446.40" text-anchor="middle" class="t">16</text>
<text x="509.99" y="446.40" text-anchor="middle" class="t">18</text>
<text x="541.40" y="446.40" text-anchor="middle" class="t">20</text>
<text x="314.80" y="435.80" text-anchor="end" class="t">-80</text>
<text x="314.80" y="394.70" text-anchor="end" class="t">-60</text>
<text x="314.80" y="353.60" text-anchor="end" class="t">-40</text>
<text x="314.80" y="312.50" text-anchor="end" class="t">-20</text>
<text x="314.80" y="271.40" text-anchor="end" class="t">0</text>
<text x="431.15" y="458.80" text-anchor="middle" class="t">Frequency (GHz)</text>
<text transform="translate(295.60 356.30) rotate(-90)" text-anchor="middle" class="t">Magnitude (dB)</text>
<ellipse cx="494.00" cy="386.90" rx="15" ry="10.6" fill="#7f7f7f" stroke="#1a1a1a" stroke-width="1"/>
<circle cx="368.90" cy="361.30" r="6.3" fill="#7f7f7f" stroke="#1a1a1a" stroke-width="1"/>
<circle cx="400.50" cy="380.90" r="6.3" fill="#7f7f7f" stroke="#1a1a1a" stroke-width="1"/>
<polyline points="321.1,319.5 324.6,317.9 327.7,316.6 330.2,315.8 336.8,314.0 338.7,313.2 344.0,310.7 347.5,309.6 350.6,308.7 355.0,307.7 356.0,307.6 356.9,307.7 357.5,307.8 358.5,308.2 359.4,308.9 360.4,309.7 361.6,311.0 363.2,313.0 364.1,315.0 365.1,317.8 366.0,321.3 366.7,324.3 367.3,327.9 367.9,332.1 368.2,335.0 368.5,341.1 369.2,360.0 369.5,366.1 369.8,361.2 370.1,340.0 370.4,328.2 371.0,317.1 372.0,307.2 373.6,294.2 374.2,289.8 375.4,282.7 376.1,279.7 377.3,274.8 378.0,273.3 378.9,272.2 379.5,271.7 379.8,271.7 380.8,271.9 382.0,272.7 382.4,273.0 383.3,274.3 383.6,274.6 383.9,274.7 384.2,274.6 384.6,274.3 385.5,273.0 385.8,272.7 386.8,272.0 387.7,271.7 388.0,271.7 388.3,271.9 389.0,272.8 389.6,273.9 389.9,274.7 390.5,276.7 392.1,283.0 393.7,290.6 395.6,301.6 397.8,316.7 398.7,324.4 399.3,328.6 399.6,331.7 400.3,390.2 400.6,390.7 400.9,360.4 401.2,340.8 401.5,333.4 402.1,325.5 402.5,323.0 402.8,321.6 403.4,320.5 406.5,317.6 407.5,316.9 408.4,316.5 409.1,316.5 416.3,316.5 418.2,316.9 420.4,317.9 423.5,319.7 429.5,324.0 436.4,328.7 440.5,331.7 444.2,334.8 448.3,338.5 452.1,342.3 456.5,347.2 461.5,353.3 463.7,356.1 465.6,358.8 472.2,369.0 474.4,372.3 476.3,374.8 478.2,377.1 481.6,380.7 484.8,383.4 490.1,387.1 491.4,387.8 492.6,388.2 493.6,388.4 494.5,388.3 495.4,388.1 496.7,387.6 498.0,386.9 499.8,385.6 502.4,383.8 503.6,382.6 505.2,380.9 509.3,376.0 518.4,365.9 523.4,360.2 526.2,356.8 531.3,350.5 533.8,347.6 536.0,344.9 536.9,344.0 537.5,343.5 538.2,343.2 538.8,343.2 539.1,343.5 539.7,344.9 541.0,349.3" fill="none" stroke="#ff0000" stroke-width="1.6" stroke-linejoin="round" clip-path="url(#clipd)"/>
<rect x="318.30" y="316.75" width="5.6" height="5.6" fill="#fff" stroke="#ff0000" stroke-width="0.9" clip-path="url(#mclipd)"/>
<rect x="334.01" y="311.20" width="5.6" height="5.6" fill="#fff" stroke="#ff0000" stroke-width="0.9"/>
<rect x="349.71" y="305.44" width="5.6" height="5.6" fill="#fff" stroke="#ff0000" stroke-width="0.9"/>
<rect x="365.42" y="332.16" width="5.6" height="5.6" fill="#fff" stroke="#ff0000" stroke-width="0.9"/>
<rect x="381.13" y="268.45" width="5.6" height="5.6" fill="#fff" stroke="#ff0000" stroke-width="0.9" clip-path="url(#mclipd)"/>
<rect x="396.84" y="328.87" width="5.6" height="5.6" fill="#fff" stroke="#ff0000" stroke-width="0.9"/>
<rect x="412.54" y="313.66" width="5.6" height="5.6" fill="#fff" stroke="#ff0000" stroke-width="0.9"/>
<rect x="428.25" y="322.30" width="5.6" height="5.6" fill="#fff" stroke="#ff0000" stroke-width="0.9"/>
<rect x="443.96" y="334.21" width="5.6" height="5.6" fill="#fff" stroke="#ff0000" stroke-width="0.9"/>
<rect x="459.66" y="351.68" width="5.6" height="5.6" fill="#fff" stroke="#ff0000" stroke-width="0.9"/>
<rect x="475.37" y="374.29" width="5.6" height="5.6" fill="#fff" stroke="#ff0000" stroke-width="0.9"/>
<rect x="491.08" y="385.59" width="5.6" height="5.6" fill="#fff" stroke="#ff0000" stroke-width="0.9"/>
<rect x="506.79" y="372.85" width="5.6" height="5.6" fill="#fff" stroke="#ff0000" stroke-width="0.9"/>
<rect x="522.49" y="355.18" width="5.6" height="5.6" fill="#fff" stroke="#ff0000" stroke-width="0.9"/>
<rect x="538.20" y="346.55" width="5.6" height="5.6" fill="#fff" stroke="#ff0000" stroke-width="0.9" clip-path="url(#mclipd)"/>
<polyline points="321.1,319.8 324.6,318.0 328.0,316.6 330.2,315.9 336.8,314.0 338.7,313.2 344.0,310.7 347.5,309.6 350.3,308.7 354.7,307.8 356.0,307.6 356.9,307.7 357.5,307.8 358.5,308.3 359.4,308.9 360.4,309.8 361.9,311.5 363.2,313.2 363.8,314.6 364.5,316.3 366.0,321.8 366.7,325.0 367.6,330.7 368.2,336.0 368.5,342.8 369.2,362.6 369.5,366.8 370.1,334.2 370.4,324.8 370.7,319.9 372.0,307.3 373.6,294.2 374.2,289.8 375.4,282.7 376.1,279.7 377.3,274.8 378.0,273.3 378.9,272.2 379.5,271.7 379.8,271.7 380.8,271.9 382.0,272.7 382.4,273.0 383.3,274.3 383.6,274.6 383.9,274.7 384.2,274.6 384.6,274.3 385.5,273.0 385.8,272.7 386.8,272.0 387.7,271.7 388.0,271.7 388.3,271.9 389.0,272.8 389.6,273.9 389.9,274.7 390.5,276.7 392.1,283.0 393.7,290.6 395.6,301.6 397.8,316.7 398.7,324.4 399.3,328.6 399.6,331.7 400.3,390.2 400.6,390.7 400.9,360.4 401.2,340.8 401.5,333.4 402.1,325.5 402.5,323.0 402.8,321.6 403.4,320.5 406.5,317.6 407.5,316.9 408.4,316.5 409.1,316.5 411.3,316.5 416.0,317.0 418.2,317.5 420.7,318.7 424.1,320.8 435.4,328.5 439.8,331.8 443.9,335.1 448.0,338.8 451.8,342.7 456.2,347.7 461.2,353.9 463.4,356.8 465.3,359.5 471.9,370.0 474.1,373.3 476.0,375.9 477.9,378.2 481.3,381.6 484.5,384.3 489.8,387.7 491.4,388.4 492.6,388.9 493.6,389.0 494.5,389.0 495.4,388.7 496.7,388.1 498.9,386.6 502.0,384.0 503.0,383.1 504.9,381.0 509.6,375.0 524.0,359.0 531.3,350.4 533.8,347.6 536.0,344.9 537.2,343.7 537.9,343.4 538.5,343.2 538.8,343.2 539.1,343.6 539.7,345.2 541.0,350.2" fill="none" stroke="#0000ff" stroke-width="1.6" stroke-linejoin="round" clip-path="url(#clipd)"/>
<circle cx="321.10" cy="319.75" r="2.8" fill="#fff" stroke="#0000ff" stroke-width="0.9" clip-path="url(#mclipd)"/>
<circle cx="336.81" cy="314.00" r="2.8" fill="#fff" stroke="#0000ff" stroke-width="0.9"/>
<circle cx="352.51" cy="308.25" r="2.8" fill="#fff" stroke="#0000ff" stroke-width="0.9"/>
<circle cx="368.22" cy="335.99" r="2.8" fill="#fff" stroke="#0000ff" stroke-width="0.9"/>
<circle cx="383.93" cy="271.25" r="2.8" fill="#fff" stroke="#0000ff" stroke-width="0.9" clip-path="url(#mclipd)"/>
<circle cx="399.64" cy="331.67" r="2.8" fill="#fff" stroke="#0000ff" stroke-width="0.9"/>
<circle cx="415.34" cy="316.88" r="2.8" fill="#fff" stroke="#0000ff" stroke-width="0.9"/>
<circle cx="431.05" cy="325.51" r="2.8" fill="#fff" stroke="#0000ff" stroke-width="0.9"/>
<circle cx="446.76" cy="337.63" r="2.8" fill="#fff" stroke="#0000ff" stroke-width="0.9"/>
<circle cx="462.46" cy="355.51" r="2.8" fill="#fff" stroke="#0000ff" stroke-width="0.9"/>
<circle cx="478.17" cy="378.53" r="2.8" fill="#fff" stroke="#0000ff" stroke-width="0.9"/>
<circle cx="493.88" cy="389.01" r="2.8" fill="#fff" stroke="#0000ff" stroke-width="0.9"/>
<circle cx="509.59" cy="375.03" r="2.8" fill="#fff" stroke="#0000ff" stroke-width="0.9"/>
<circle cx="525.29" cy="357.56" r="2.8" fill="#fff" stroke="#0000ff" stroke-width="0.9"/>
<circle cx="541.00" cy="350.17" r="2.8" fill="#fff" stroke="#0000ff" stroke-width="0.9" clip-path="url(#mclipd)"/>
<polyline points="321.1,319.5 324.6,317.8 328.0,316.3 330.5,315.4 336.8,313.6 338.7,312.8 344.0,310.3 349.4,308.6 354.4,307.4 355.7,307.3 356.6,307.2 357.2,307.3 357.9,307.6 358.5,308.0 359.4,308.8 360.7,310.1 361.9,311.8 362.6,312.7 363.2,314.0 364.1,316.6 365.1,319.8 365.7,322.4 366.3,325.8 367.0,329.9 367.6,334.9 368.2,342.8 368.8,365.8 369.2,358.6 369.5,337.8 369.8,326.7 370.1,321.8 370.4,318.7 371.7,310.3 372.9,299.2 373.9,291.8 374.8,286.0 375.8,281.2 377.0,276.0 377.6,273.9 378.3,272.9 379.2,271.9 379.5,271.7 380.2,271.7 381.1,272.1 382.0,272.7 382.4,273.0 383.3,274.3 383.6,274.6 383.9,274.7 384.2,274.6 384.6,274.3 385.5,273.0 385.8,272.7 386.8,272.0 387.7,271.7 388.0,271.7 388.3,271.9 389.0,272.8 389.6,273.9 389.9,274.7 390.5,276.7 392.1,283.0 393.7,290.6 394.9,297.7 395.9,303.7 397.8,316.7 399.3,328.8 399.6,332.1 400.3,390.3 400.6,390.7 400.9,360.4 401.2,340.8 401.5,333.4 402.1,325.4 402.5,322.9 402.8,321.6 403.4,321.0 404.7,320.4 407.2,318.3 408.4,317.6 409.1,317.5 416.3,317.5 418.2,317.9 420.4,318.7 422.3,319.7 424.1,320.9 433.2,327.0 436.7,329.5 440.5,332.6 446.1,337.7 450.5,342.0 455.2,347.0 460.3,353.0 463.1,356.5 465.0,359.2 472.2,370.7 474.4,374.1 476.3,376.7 478.2,378.9 481.9,382.8 484.8,385.1 489.5,388.0 491.1,388.8 492.3,389.2 493.3,389.4 494.2,389.4 495.1,389.2 496.1,388.7 498.0,387.1 502.7,382.3 504.6,380.2 509.9,373.9 525.3,356.7 530.6,350.6 533.8,347.2 536.0,344.6 536.9,343.6 537.5,343.1 538.2,342.8 538.8,342.8 539.1,343.2 539.7,344.7 541.0,349.3" fill="none" stroke="#ff00ff" stroke-width="1.6" stroke-linejoin="round" clip-path="url(#clipd)"/>
<path d="M321.10 315.15L324.70 321.75H317.50Z" fill="#fff" stroke="#ff00ff" stroke-width="0.9" clip-path="url(#mclipd)"/>
<path d="M336.81 309.19L340.41 315.79H333.21Z" fill="#fff" stroke="#ff00ff" stroke-width="0.9"/>
<path d="M352.51 303.43L356.11 310.03H348.91Z" fill="#fff" stroke="#ff00ff" stroke-width="0.9"/>
<path d="M368.22 338.37L371.82 344.97H364.62Z" fill="#fff" stroke="#ff00ff" stroke-width="0.9"/>
<path d="M383.93 266.86L387.53 273.45H380.33Z" fill="#fff" stroke="#ff00ff" stroke-width="0.9" clip-path="url(#mclipd)"/>
<path d="M399.64 327.68L403.24 334.28H396.04Z" fill="#fff" stroke="#ff00ff" stroke-width="0.9"/>
<path d="M415.34 313.09L418.94 319.69H411.74Z" fill="#fff" stroke="#ff00ff" stroke-width="0.9"/>
<path d="M431.05 321.11L434.65 327.71H427.45Z" fill="#fff" stroke="#ff00ff" stroke-width="0.9"/>
<path d="M446.76 333.85L450.36 340.45H443.16Z" fill="#fff" stroke="#ff00ff" stroke-width="0.9"/>
<path d="M462.46 351.32L466.06 357.92H458.86Z" fill="#fff" stroke="#ff00ff" stroke-width="0.9"/>
<path d="M478.17 374.54L481.77 381.14H474.57Z" fill="#fff" stroke="#ff00ff" stroke-width="0.9"/>
<path d="M493.88 385.02L497.48 391.62H490.28Z" fill="#fff" stroke="#ff00ff" stroke-width="0.9"/>
<path d="M509.59 369.81L513.19 376.41H505.99Z" fill="#fff" stroke="#ff00ff" stroke-width="0.9"/>
<path d="M525.29 352.34L528.89 358.94H521.69Z" fill="#fff" stroke="#ff00ff" stroke-width="0.9"/>
<path d="M541.00 344.95L544.60 351.55H537.40Z" fill="#fff" stroke="#ff00ff" stroke-width="0.9" clip-path="url(#mclipd)"/>
<polyline points="321.1,321.2 324.9,319.3 328.3,317.9 330.5,317.2 336.8,315.4 343.7,312.6 348.1,311.3 354.4,309.9 356.3,309.7 356.9,309.7 357.9,310.0 358.8,310.6 359.7,311.3 361.0,312.6 362.3,314.2 362.9,315.0 363.5,316.2 364.5,318.7 365.4,321.9 366.0,324.5 366.7,327.8 367.6,333.6 368.2,339.1 369.2,365.1 369.5,363.7 369.8,342.8 370.1,329.5 370.4,322.6 371.0,315.6 373.2,296.7 374.2,289.8 375.4,282.7 376.1,279.7 377.3,274.8 378.0,273.3 378.9,272.2 379.5,271.7 379.8,271.7 380.8,271.9 382.0,272.7 382.4,273.0 383.3,274.3 383.6,274.6 383.9,274.7 384.2,274.6 384.6,274.3 385.5,273.0 385.8,272.7 386.8,272.0 387.7,271.7 388.0,271.7 388.3,271.9 389.0,272.8 389.6,273.9 389.9,274.7 390.5,276.7 392.1,283.0 393.7,290.6 394.9,297.7 395.9,303.7 397.8,316.7 399.3,329.2 399.6,332.9 400.3,390.4 400.6,390.7 400.9,360.4 401.2,340.8 401.5,333.4 402.1,325.6 402.5,323.1 402.8,321.6 403.1,320.7 403.7,319.4 404.3,318.5 405.9,317.0 407.2,316.0 408.1,315.6 409.1,315.4 416.3,315.5 418.2,315.9 420.4,316.8 423.5,318.6 430.1,323.1 436.4,326.8 440.2,329.2 444.2,332.0 447.7,334.7 451.2,337.8 454.6,341.4 458.7,345.9 463.1,351.1 466.9,356.3 476.0,370.0 480.7,376.2 483.2,379.4 485.4,381.7 489.5,385.2 491.4,386.6 492.9,387.2 493.9,387.4 495.1,387.2 496.4,386.9 497.6,386.4 499.2,385.7 502.0,384.1 503.0,383.4 504.2,382.4 505.8,380.8 514.6,371.3 530.6,353.1 533.8,349.7 536.0,347.0 537.2,345.8 537.9,345.4 538.5,345.2 538.8,345.3 539.1,345.6 539.7,346.9 541.0,351.0" fill="none" stroke="#008000" stroke-width="1.6" stroke-linejoin="round" clip-path="url(#clipd)"/>
<path d="M321.10 325.59L324.70 318.99H317.50Z" fill="#fff" stroke="#008000" stroke-width="0.9" clip-path="url(#mclipd)"/>
<path d="M336.81 319.84L340.41 313.24H333.21Z" fill="#fff" stroke="#008000" stroke-width="0.9"/>
<path d="M352.51 314.70L356.11 308.10H348.91Z" fill="#fff" stroke="#008000" stroke-width="0.9"/>
<path d="M368.22 343.47L371.82 336.87H364.62Z" fill="#fff" stroke="#008000" stroke-width="0.9"/>
<path d="M383.93 275.65L387.53 269.06H380.33Z" fill="#fff" stroke="#008000" stroke-width="0.9" clip-path="url(#mclipd)"/>
<path d="M399.64 337.30L403.24 330.70H396.04Z" fill="#fff" stroke="#008000" stroke-width="0.9"/>
<path d="M415.34 319.84L418.94 313.24H411.74Z" fill="#fff" stroke="#008000" stroke-width="0.9"/>
<path d="M431.05 328.06L434.65 321.46H427.45Z" fill="#fff" stroke="#008000" stroke-width="0.9"/>
<path d="M446.76 338.33L450.36 331.73H443.16Z" fill="#fff" stroke="#008000" stroke-width="0.9"/>
<path d="M462.46 354.77L466.06 348.17H458.86Z" fill="#fff" stroke="#008000" stroke-width="0.9"/>
<path d="M478.17 377.38L481.77 370.78H474.57Z" fill="#fff" stroke="#008000" stroke-width="0.9"/>
<path d="M493.88 391.76L497.48 385.16H490.28Z" fill="#fff" stroke="#008000" stroke-width="0.9"/>
<path d="M509.59 381.08L513.19 374.48H505.99Z" fill="#fff" stroke="#008000" stroke-width="0.9"/>
<path d="M525.29 363.61L528.89 357.01H521.69Z" fill="#fff" stroke="#008000" stroke-width="0.9"/>
<path d="M541.00 355.39L544.60 348.79H537.40Z" fill="#fff" stroke="#008000" stroke-width="0.9" clip-path="url(#mclipd)"/>
<polyline points="321.1,323.5 325.2,321.4 329.0,319.9 331.2,319.1 336.8,317.5 342.1,315.6 344.7,314.8 347.8,314.2 356.0,312.8 356.9,312.8 357.5,313.0 358.2,313.3 359.1,314.1 360.4,315.4 361.9,317.5 362.6,318.4 363.2,319.7 363.8,321.4 364.8,324.6 365.4,327.0 366.0,330.0 367.0,336.2 367.9,345.8 368.2,350.4 368.8,366.8 369.5,334.1 369.8,324.7 370.4,318.2 371.7,310.3 373.6,294.2 374.2,289.8 375.4,282.7 376.1,279.7 377.3,274.8 378.0,273.3 378.9,272.2 379.5,271.7 379.8,271.7 380.8,271.9 382.0,272.7 382.4,273.0 383.3,274.3 383.6,274.6 383.9,274.7 384.2,274.6 384.6,274.3 385.5,273.0 385.8,272.7 387.1,271.9 387.7,271.7 388.0,271.7 388.3,271.9 389.0,272.8 389.6,273.9 390.2,275.6 391.8,281.6 393.7,290.6 395.2,299.6 397.4,314.5 398.4,321.6 399.3,329.9 399.6,334.5 400.3,390.7 400.6,390.7 400.9,360.4 401.2,340.8 401.5,333.4 402.1,325.6 402.8,321.6 403.4,319.4 404.0,317.9 405.0,316.8 406.2,315.7 407.5,315.0 408.7,314.5 412.2,313.8 415.3,313.6 417.2,313.8 419.4,314.5 421.0,315.3 422.6,316.2 428.2,319.9 430.4,321.3 440.2,326.0 443.6,327.8 446.8,329.8 449.3,331.8 452.1,334.3 455.2,337.6 459.3,342.2 464.3,348.1 468.4,353.6 482.6,373.7 485.1,377.0 490.4,383.2 492.0,384.5 493.3,385.0 493.9,385.1 494.8,385.1 496.7,384.8 498.9,384.2 502.7,382.9 504.6,382.1 506.4,381.0 508.6,379.6 510.5,378.2 512.7,376.2 514.9,373.7 523.4,363.0 529.4,356.2 531.9,353.6 535.7,350.0 536.9,349.0 537.5,348.6 538.2,348.4 538.8,348.3 539.1,348.5 539.7,349.2 541.0,351.6" fill="none" stroke="#ff8000" stroke-width="1.6" stroke-linejoin="round" clip-path="url(#clipd)"/>
<path d="M321.10 319.35L324.70 323.45L321.10 327.55L317.50 323.45Z" fill="#fff" stroke="#ff8000" stroke-width="0.9" clip-path="url(#mclipd)"/>
<path d="M336.81 313.39L340.41 317.49L336.81 321.59L333.21 317.49Z" fill="#fff" stroke="#ff8000" stroke-width="0.9"/>
<path d="M352.51 309.28L356.11 313.38L352.51 317.48L348.91 313.38Z" fill="#fff" stroke="#ff8000" stroke-width="0.9"/>
<path d="M368.22 346.27L371.82 350.37L368.22 354.47L364.62 350.37Z" fill="#fff" stroke="#ff8000" stroke-width="0.9"/>
<path d="M383.93 267.15L387.53 271.25L383.93 275.36L380.33 271.25Z" fill="#fff" stroke="#ff8000" stroke-width="0.9" clip-path="url(#mclipd)"/>
<path d="M399.64 330.45L403.24 334.55L399.64 338.65L396.04 334.55Z" fill="#fff" stroke="#ff8000" stroke-width="0.9"/>
<path d="M415.34 309.49L418.94 313.59L415.34 317.69L411.74 313.59Z" fill="#fff" stroke="#ff8000" stroke-width="0.9"/>
<path d="M431.05 317.50L434.65 321.60L431.05 325.70L427.45 321.60Z" fill="#fff" stroke="#ff8000" stroke-width="0.9"/>
<path d="M446.76 325.72L450.36 329.82L446.76 333.92L443.16 329.82Z" fill="#fff" stroke="#ff8000" stroke-width="0.9"/>
<path d="M462.46 341.75L466.06 345.85L462.46 349.95L458.86 345.85Z" fill="#fff" stroke="#ff8000" stroke-width="0.9"/>
<path d="M478.17 363.33L481.77 367.43L478.17 371.53L474.57 367.43Z" fill="#fff" stroke="#ff8000" stroke-width="0.9"/>
<path d="M493.88 381.00L497.48 385.10L493.88 389.20L490.28 385.10Z" fill="#fff" stroke="#ff8000" stroke-width="0.9"/>
<path d="M509.59 374.84L513.19 378.94L509.59 383.04L505.99 378.94Z" fill="#fff" stroke="#ff8000" stroke-width="0.9"/>
<path d="M525.29 356.75L528.89 360.85L525.29 364.95L521.69 360.85Z" fill="#fff" stroke="#ff8000" stroke-width="0.9"/>
<path d="M541.00 347.51L544.60 351.61L541.00 355.71L537.40 351.61Z" fill="#fff" stroke="#ff8000" stroke-width="0.9" clip-path="url(#mclipd)"/>
<rect x="342.60" y="357.20" width="17.30" height="12.4" fill="#fff"/>
<text x="358.70" y="366.40" text-anchor="end" class="t">TZ1</text>
<rect x="409.90" y="374.70" width="17.30" height="12.4" fill="#fff"/>
<text x="411.10" y="383.90" text-anchor="start" class="t">TZ2</text>
<rect x="486.55" y="398.30" width="17.30" height="12.4" fill="#fff"/>
<text x="495.20" y="407.50" text-anchor="middle" class="t">TZ3</text>
<rect x="426.60" y="276.50" width="106.80" height="47.10" fill="#fff" stroke="#a8a8a8" stroke-width="1.2"/>
<line x1="431.10" y1="285.70" x2="450.70" y2="285.70" stroke="#ff0000" stroke-width="1.6"/>
<rect x="438.10" y="282.90" width="5.6" height="5.6" fill="#fff" stroke="#ff0000" stroke-width="0.9"/>
<text x="452.90" y="288.70" class="t lg">|S<tspan class="sub" dy="2.3">dd21</tspan><tspan dy="-2.3">| (</tspan><tspan class="vi">a</tspan><tspan class="vb">1</tspan> = 0.9 mm)</text>
<line x1="431.10" y1="299.50" x2="450.70" y2="299.50" stroke="#0000ff" stroke-width="1.6"/>
<circle cx="440.90" cy="299.50" r="2.8" fill="#fff" stroke="#0000ff" stroke-width="0.9"/>
<text x="452.90" y="302.50" class="t lg">|S<tspan class="sub" dy="2.3">dd21</tspan><tspan dy="-2.3">| (</tspan><tspan class="vi">a</tspan><tspan class="vb">1</tspan> = 0.8 mm)</text>
<line x1="431.10" y1="313.90" x2="450.70" y2="313.90" stroke="#ff00ff" stroke-width="1.6"/>
<path d="M440.90 309.50L444.50 316.10H437.30Z" fill="#fff" stroke="#ff00ff" stroke-width="0.9"/>
<text x="452.90" y="316.90" class="t lg">|S<tspan class="sub" dy="2.3">dd21</tspan><tspan dy="-2.3">| (</tspan><tspan class="vi">a</tspan><tspan class="vb">1</tspan> = 0.7 mm)</text>
<rect x="326.70" y="395.50" width="106.50" height="33.80" fill="#fff" stroke="#a8a8a8" stroke-width="1.2"/>
<line x1="330.70" y1="405.70" x2="350.30" y2="405.70" stroke="#008000" stroke-width="1.6"/>
<path d="M340.50 410.10L344.10 403.50H336.90Z" fill="#fff" stroke="#008000" stroke-width="0.9"/>
<text x="352.50" y="408.70" class="t lg">|S<tspan class="sub" dy="2.3">dd21</tspan><tspan dy="-2.3">| (</tspan><tspan class="vi">a</tspan><tspan class="vb">1</tspan> = 0.6 mm)</text>
<line x1="330.70" y1="419.60" x2="350.30" y2="419.60" stroke="#ff8000" stroke-width="1.6"/>
<path d="M340.50 415.50L344.10 419.60L340.50 423.70L336.90 419.60Z" fill="#fff" stroke="#ff8000" stroke-width="0.9"/>
<text x="352.50" y="422.60" class="t lg">|S<tspan class="sub" dy="2.3">dd21</tspan><tspan dy="-2.3">| (</tspan><tspan class="vi">a</tspan><tspan class="vb">1</tspan> = 0.5 mm)</text>
<text x="419.4" y="501.4" text-anchor="middle" class="cap">(d)</text>
</svg></body></html>
